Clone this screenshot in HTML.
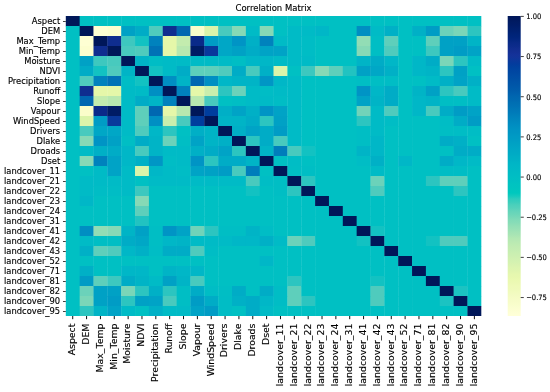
<!DOCTYPE html><html><head><meta charset="utf-8"><style>html,body{margin:0;padding:0;background:#fff;width:550px;height:392px;overflow:hidden}svg{display:block}#w{width:550px;height:392px}text{font-family:"DejaVu Sans","Liberation Sans",sans-serif;fill:#000;stroke:#000;stroke-width:0.15px}</style></head><body><div id="w"><svg width="550" height="392" viewBox="0 0 613.155 392" preserveAspectRatio="none"><rect width="100%" height="100%" fill="#fff"/><g><rect x="73.36" y="16.00" width="15.84" height="10.40" fill="#001759"/><rect x="88.80" y="16.00" width="15.84" height="10.40" fill="#00c0c3"/><rect x="104.24" y="16.00" width="15.84" height="10.40" fill="#00c0c3"/><rect x="119.68" y="16.00" width="15.84" height="10.40" fill="#00c0c3"/><rect x="135.12" y="16.00" width="15.84" height="10.40" fill="#00c0c3"/><rect x="150.56" y="16.00" width="15.84" height="10.40" fill="#00c0c3"/><rect x="166.00" y="16.00" width="15.84" height="10.40" fill="#00c0c3"/><rect x="181.44" y="16.00" width="15.84" height="10.40" fill="#00c0c3"/><rect x="196.88" y="16.00" width="15.84" height="10.40" fill="#00c0c3"/><rect x="212.32" y="16.00" width="15.84" height="10.40" fill="#00c0c3"/><rect x="227.76" y="16.00" width="15.84" height="10.40" fill="#00c0c3"/><rect x="243.20" y="16.00" width="15.84" height="10.40" fill="#00c0c3"/><rect x="258.64" y="16.00" width="15.84" height="10.40" fill="#00c0c3"/><rect x="274.08" y="16.00" width="15.84" height="10.40" fill="#00c0c3"/><rect x="289.52" y="16.00" width="15.84" height="10.40" fill="#00c0c3"/><rect x="304.96" y="16.00" width="15.84" height="10.40" fill="#00c0c3"/><rect x="320.40" y="16.00" width="15.84" height="10.40" fill="#00c0c3"/><rect x="335.84" y="16.00" width="15.84" height="10.40" fill="#00c0c3"/><rect x="351.28" y="16.00" width="15.84" height="10.40" fill="#00c0c3"/><rect x="366.72" y="16.00" width="15.84" height="10.40" fill="#00c0c3"/><rect x="382.16" y="16.00" width="15.84" height="10.40" fill="#00c0c3"/><rect x="397.60" y="16.00" width="15.84" height="10.40" fill="#00c0c3"/><rect x="413.04" y="16.00" width="15.84" height="10.40" fill="#00c0c3"/><rect x="428.48" y="16.00" width="15.84" height="10.40" fill="#00c0c3"/><rect x="443.92" y="16.00" width="15.84" height="10.40" fill="#00c0c3"/><rect x="459.36" y="16.00" width="15.84" height="10.40" fill="#00c0c3"/><rect x="474.80" y="16.00" width="15.84" height="10.40" fill="#00c0c3"/><rect x="490.25" y="16.00" width="15.84" height="10.40" fill="#00c0c3"/><rect x="505.69" y="16.00" width="15.84" height="10.40" fill="#00c0c3"/><rect x="521.13" y="16.00" width="15.44" height="10.40" fill="#00c0c3"/><rect x="73.36" y="26.00" width="15.84" height="10.40" fill="#00c0c3"/><rect x="88.80" y="26.00" width="15.84" height="10.40" fill="#001759"/><rect x="104.24" y="26.00" width="15.84" height="10.40" fill="#feffd3"/><rect x="119.68" y="26.00" width="15.84" height="10.40" fill="#fcfece"/><rect x="135.12" y="26.00" width="15.84" height="10.40" fill="#00a1c5"/><rect x="150.56" y="26.00" width="15.84" height="10.40" fill="#00acc6"/><rect x="166.00" y="26.00" width="15.84" height="10.40" fill="#4fcbbd"/><rect x="181.44" y="26.00" width="15.84" height="10.40" fill="#0f2d8f"/><rect x="196.88" y="26.00" width="15.84" height="10.40" fill="#0067b1"/><rect x="212.32" y="26.00" width="15.84" height="10.40" fill="#fafdca"/><rect x="227.76" y="26.00" width="15.84" height="10.40" fill="#dbf4aa"/><rect x="243.20" y="26.00" width="15.84" height="10.40" fill="#48cabe"/><rect x="258.64" y="26.00" width="15.84" height="10.40" fill="#86d9b6"/><rect x="274.08" y="26.00" width="15.84" height="10.40" fill="#00bbc6"/><rect x="289.52" y="26.00" width="15.84" height="10.40" fill="#86d9b6"/><rect x="304.96" y="26.00" width="15.84" height="10.40" fill="#00c0c3"/><rect x="320.40" y="26.00" width="15.84" height="10.40" fill="#00bbc6"/><rect x="335.84" y="26.00" width="15.84" height="10.40" fill="#00bbc6"/><rect x="351.28" y="26.00" width="15.84" height="10.40" fill="#00b7c7"/><rect x="366.72" y="26.00" width="15.84" height="10.40" fill="#00c0c3"/><rect x="382.16" y="26.00" width="15.84" height="10.40" fill="#00c0c3"/><rect x="397.60" y="26.00" width="15.84" height="10.40" fill="#008ec2"/><rect x="413.04" y="26.00" width="15.84" height="10.40" fill="#00bbc6"/><rect x="428.48" y="26.00" width="15.84" height="10.40" fill="#00b0c6"/><rect x="443.92" y="26.00" width="15.84" height="10.40" fill="#00c0c3"/><rect x="459.36" y="26.00" width="15.84" height="10.40" fill="#00b0c6"/><rect x="474.80" y="26.00" width="15.84" height="10.40" fill="#009cc5"/><rect x="490.25" y="26.00" width="15.84" height="10.40" fill="#6bd2ba"/><rect x="505.69" y="26.00" width="15.84" height="10.40" fill="#7ad6b8"/><rect x="521.13" y="26.00" width="15.44" height="10.40" fill="#2cc5c0"/><rect x="73.36" y="36.00" width="15.84" height="10.40" fill="#00c0c3"/><rect x="88.80" y="36.00" width="15.84" height="10.40" fill="#feffd3"/><rect x="104.24" y="36.00" width="15.84" height="10.40" fill="#001759"/><rect x="119.68" y="36.00" width="15.84" height="10.40" fill="#0f2d8f"/><rect x="135.12" y="36.00" width="15.84" height="10.40" fill="#3dc8bf"/><rect x="150.56" y="36.00" width="15.84" height="10.40" fill="#12c2c2"/><rect x="166.00" y="36.00" width="15.84" height="10.40" fill="#0082bd"/><rect x="181.44" y="36.00" width="15.84" height="10.40" fill="#e5f7a9"/><rect x="196.88" y="36.00" width="15.84" height="10.40" fill="#c3ecae"/><rect x="212.32" y="36.00" width="15.84" height="10.40" fill="#0a2a89"/><rect x="227.76" y="36.00" width="15.84" height="10.40" fill="#009cc5"/><rect x="243.20" y="36.00" width="15.84" height="10.40" fill="#00a7c6"/><rect x="258.64" y="36.00" width="15.84" height="10.40" fill="#0094c5"/><rect x="274.08" y="36.00" width="15.84" height="10.40" fill="#00b0c6"/><rect x="289.52" y="36.00" width="15.84" height="10.40" fill="#0082bd"/><rect x="304.96" y="36.00" width="15.84" height="10.40" fill="#00bbc6"/><rect x="320.40" y="36.00" width="15.84" height="10.40" fill="#00bbc6"/><rect x="335.84" y="36.00" width="15.84" height="10.40" fill="#00bdc5"/><rect x="351.28" y="36.00" width="15.84" height="10.40" fill="#00c0c3"/><rect x="366.72" y="36.00" width="15.84" height="10.40" fill="#00c0c3"/><rect x="382.16" y="36.00" width="15.84" height="10.40" fill="#00c0c3"/><rect x="397.60" y="36.00" width="15.84" height="10.40" fill="#92ddb5"/><rect x="413.04" y="36.00" width="15.84" height="10.40" fill="#00bec4"/><rect x="428.48" y="36.00" width="15.84" height="10.40" fill="#5ecfbb"/><rect x="443.92" y="36.00" width="15.84" height="10.40" fill="#00c0c3"/><rect x="459.36" y="36.00" width="15.84" height="10.40" fill="#00c0c3"/><rect x="474.80" y="36.00" width="15.84" height="10.40" fill="#5ecfbb"/><rect x="490.25" y="36.00" width="15.84" height="10.40" fill="#00a1c5"/><rect x="505.69" y="36.00" width="15.84" height="10.40" fill="#00a1c5"/><rect x="521.13" y="36.00" width="15.44" height="10.40" fill="#00b4c6"/><rect x="73.36" y="46.00" width="15.84" height="10.40" fill="#00c0c3"/><rect x="88.80" y="46.00" width="15.84" height="10.40" fill="#fcfece"/><rect x="104.24" y="46.00" width="15.84" height="10.40" fill="#0f2d8f"/><rect x="119.68" y="46.00" width="15.84" height="10.40" fill="#001759"/><rect x="135.12" y="46.00" width="15.84" height="10.40" fill="#48cabe"/><rect x="150.56" y="46.00" width="15.84" height="10.40" fill="#4fcbbd"/><rect x="166.00" y="46.00" width="15.84" height="10.40" fill="#0072b6"/><rect x="181.44" y="46.00" width="15.84" height="10.40" fill="#e5f7a9"/><rect x="196.88" y="46.00" width="15.84" height="10.40" fill="#b8e8af"/><rect x="212.32" y="46.00" width="15.84" height="10.40" fill="#001c65"/><rect x="227.76" y="46.00" width="15.84" height="10.40" fill="#09399c"/><rect x="243.20" y="46.00" width="15.84" height="10.40" fill="#00a7c6"/><rect x="258.64" y="46.00" width="15.84" height="10.40" fill="#00a1c5"/><rect x="274.08" y="46.00" width="15.84" height="10.40" fill="#00acc6"/><rect x="289.52" y="46.00" width="15.84" height="10.40" fill="#00a3c6"/><rect x="304.96" y="46.00" width="15.84" height="10.40" fill="#00a3c6"/><rect x="320.40" y="46.00" width="15.84" height="10.40" fill="#00bbc6"/><rect x="335.84" y="46.00" width="15.84" height="10.40" fill="#00bdc5"/><rect x="351.28" y="46.00" width="15.84" height="10.40" fill="#00c0c3"/><rect x="366.72" y="46.00" width="15.84" height="10.40" fill="#00c0c3"/><rect x="382.16" y="46.00" width="15.84" height="10.40" fill="#00c0c3"/><rect x="397.60" y="46.00" width="15.84" height="10.40" fill="#86d9b6"/><rect x="413.04" y="46.00" width="15.84" height="10.40" fill="#00bec4"/><rect x="428.48" y="46.00" width="15.84" height="10.40" fill="#4fcbbd"/><rect x="443.92" y="46.00" width="15.84" height="10.40" fill="#00c0c3"/><rect x="459.36" y="46.00" width="15.84" height="10.40" fill="#00c0c3"/><rect x="474.80" y="46.00" width="15.84" height="10.40" fill="#3dc8bf"/><rect x="490.25" y="46.00" width="15.84" height="10.40" fill="#00a1c5"/><rect x="505.69" y="46.00" width="15.84" height="10.40" fill="#009cc5"/><rect x="521.13" y="46.00" width="15.44" height="10.40" fill="#00a3c6"/><rect x="73.36" y="56.00" width="15.84" height="10.40" fill="#00c0c3"/><rect x="88.80" y="56.00" width="15.84" height="10.40" fill="#00a1c5"/><rect x="104.24" y="56.00" width="15.84" height="10.40" fill="#3dc8bf"/><rect x="119.68" y="56.00" width="15.84" height="10.40" fill="#48cabe"/><rect x="135.12" y="56.00" width="15.84" height="10.40" fill="#001759"/><rect x="150.56" y="56.00" width="15.84" height="10.40" fill="#00b4c6"/><rect x="166.00" y="56.00" width="15.84" height="10.40" fill="#00bdc5"/><rect x="181.44" y="56.00" width="15.84" height="10.40" fill="#00bbc6"/><rect x="196.88" y="56.00" width="15.84" height="10.40" fill="#00bbc6"/><rect x="212.32" y="56.00" width="15.84" height="10.40" fill="#00bbc6"/><rect x="227.76" y="56.00" width="15.84" height="10.40" fill="#00bbc6"/><rect x="243.20" y="56.00" width="15.84" height="10.40" fill="#00bbc6"/><rect x="258.64" y="56.00" width="15.84" height="10.40" fill="#00bec4"/><rect x="274.08" y="56.00" width="15.84" height="10.40" fill="#00b7c7"/><rect x="289.52" y="56.00" width="15.84" height="10.40" fill="#00b7c7"/><rect x="304.96" y="56.00" width="15.84" height="10.40" fill="#00bbc6"/><rect x="320.40" y="56.00" width="15.84" height="10.40" fill="#00bbc6"/><rect x="335.84" y="56.00" width="15.84" height="10.40" fill="#00bbc6"/><rect x="351.28" y="56.00" width="15.84" height="10.40" fill="#00c0c3"/><rect x="366.72" y="56.00" width="15.84" height="10.40" fill="#00c0c3"/><rect x="382.16" y="56.00" width="15.84" height="10.40" fill="#00c0c3"/><rect x="397.60" y="56.00" width="15.84" height="10.40" fill="#00b4c6"/><rect x="413.04" y="56.00" width="15.84" height="10.40" fill="#00acc6"/><rect x="428.48" y="56.00" width="15.84" height="10.40" fill="#00b7c7"/><rect x="443.92" y="56.00" width="15.84" height="10.40" fill="#00c0c3"/><rect x="459.36" y="56.00" width="15.84" height="10.40" fill="#00b7c7"/><rect x="474.80" y="56.00" width="15.84" height="10.40" fill="#00acc6"/><rect x="490.25" y="56.00" width="15.84" height="10.40" fill="#7ad6b8"/><rect x="505.69" y="56.00" width="15.84" height="10.40" fill="#2cc5c0"/><rect x="521.13" y="56.00" width="15.44" height="10.40" fill="#00bbc6"/><rect x="73.36" y="66.00" width="15.84" height="10.40" fill="#00c0c3"/><rect x="88.80" y="66.00" width="15.84" height="10.40" fill="#00acc6"/><rect x="104.24" y="66.00" width="15.84" height="10.40" fill="#12c2c2"/><rect x="119.68" y="66.00" width="15.84" height="10.40" fill="#4fcbbd"/><rect x="135.12" y="66.00" width="15.84" height="10.40" fill="#00b4c6"/><rect x="150.56" y="66.00" width="15.84" height="10.40" fill="#001759"/><rect x="166.00" y="66.00" width="15.84" height="10.40" fill="#12c2c2"/><rect x="181.44" y="66.00" width="15.84" height="10.40" fill="#00bbc6"/><rect x="196.88" y="66.00" width="15.84" height="10.40" fill="#00acc6"/><rect x="212.32" y="66.00" width="15.84" height="10.40" fill="#5ecfbb"/><rect x="227.76" y="66.00" width="15.84" height="10.40" fill="#5ecfbb"/><rect x="243.20" y="66.00" width="15.84" height="10.40" fill="#4fcbbd"/><rect x="258.64" y="66.00" width="15.84" height="10.40" fill="#00acc6"/><rect x="274.08" y="66.00" width="15.84" height="10.40" fill="#48cabe"/><rect x="289.52" y="66.00" width="15.84" height="10.40" fill="#00b0c6"/><rect x="304.96" y="66.00" width="15.84" height="10.40" fill="#dbf4aa"/><rect x="320.40" y="66.00" width="15.84" height="10.40" fill="#00c0c3"/><rect x="335.84" y="66.00" width="15.84" height="10.40" fill="#3dc8bf"/><rect x="351.28" y="66.00" width="15.84" height="10.40" fill="#86d9b6"/><rect x="366.72" y="66.00" width="15.84" height="10.40" fill="#5ecfbb"/><rect x="382.16" y="66.00" width="15.84" height="10.40" fill="#21c3c1"/><rect x="397.60" y="66.00" width="15.84" height="10.40" fill="#00a1c5"/><rect x="413.04" y="66.00" width="15.84" height="10.40" fill="#00a7c6"/><rect x="428.48" y="66.00" width="15.84" height="10.40" fill="#00b0c6"/><rect x="443.92" y="66.00" width="15.84" height="10.40" fill="#00c0c3"/><rect x="459.36" y="66.00" width="15.84" height="10.40" fill="#00b7c7"/><rect x="474.80" y="66.00" width="15.84" height="10.40" fill="#00b4c6"/><rect x="490.25" y="66.00" width="15.84" height="10.40" fill="#2cc5c0"/><rect x="505.69" y="66.00" width="15.84" height="10.40" fill="#00a1c5"/><rect x="521.13" y="66.00" width="15.44" height="10.40" fill="#00c0c3"/><rect x="73.36" y="76.00" width="15.84" height="10.40" fill="#00c0c3"/><rect x="88.80" y="76.00" width="15.84" height="10.40" fill="#4fcbbd"/><rect x="104.24" y="76.00" width="15.84" height="10.40" fill="#0082bd"/><rect x="119.68" y="76.00" width="15.84" height="10.40" fill="#0072b6"/><rect x="135.12" y="76.00" width="15.84" height="10.40" fill="#00bdc5"/><rect x="150.56" y="76.00" width="15.84" height="10.40" fill="#12c2c2"/><rect x="166.00" y="76.00" width="15.84" height="10.40" fill="#001759"/><rect x="181.44" y="76.00" width="15.84" height="10.40" fill="#008fc3"/><rect x="196.88" y="76.00" width="15.84" height="10.40" fill="#00b4c6"/><rect x="212.32" y="76.00" width="15.84" height="10.40" fill="#0067b1"/><rect x="227.76" y="76.00" width="15.84" height="10.40" fill="#008fc3"/><rect x="243.20" y="76.00" width="15.84" height="10.40" fill="#00b7c7"/><rect x="258.64" y="76.00" width="15.84" height="10.40" fill="#00b4c6"/><rect x="274.08" y="76.00" width="15.84" height="10.40" fill="#00b4c6"/><rect x="289.52" y="76.00" width="15.84" height="10.40" fill="#0096c5"/><rect x="304.96" y="76.00" width="15.84" height="10.40" fill="#00b7c7"/><rect x="320.40" y="76.00" width="15.84" height="10.40" fill="#00bbc6"/><rect x="335.84" y="76.00" width="15.84" height="10.40" fill="#00c0c3"/><rect x="351.28" y="76.00" width="15.84" height="10.40" fill="#00c0c3"/><rect x="366.72" y="76.00" width="15.84" height="10.40" fill="#00c0c3"/><rect x="382.16" y="76.00" width="15.84" height="10.40" fill="#00c0c3"/><rect x="397.60" y="76.00" width="15.84" height="10.40" fill="#00bec4"/><rect x="413.04" y="76.00" width="15.84" height="10.40" fill="#00bec4"/><rect x="428.48" y="76.00" width="15.84" height="10.40" fill="#00bdc5"/><rect x="443.92" y="76.00" width="15.84" height="10.40" fill="#00c0c3"/><rect x="459.36" y="76.00" width="15.84" height="10.40" fill="#00c0c3"/><rect x="474.80" y="76.00" width="15.84" height="10.40" fill="#00bbc6"/><rect x="490.25" y="76.00" width="15.84" height="10.40" fill="#00b0c6"/><rect x="505.69" y="76.00" width="15.84" height="10.40" fill="#00a3c6"/><rect x="521.13" y="76.00" width="15.44" height="10.40" fill="#00b0c6"/><rect x="73.36" y="86.00" width="15.84" height="10.40" fill="#00c0c3"/><rect x="88.80" y="86.00" width="15.84" height="10.40" fill="#0f2d8f"/><rect x="104.24" y="86.00" width="15.84" height="10.40" fill="#e5f7a9"/><rect x="119.68" y="86.00" width="15.84" height="10.40" fill="#e5f7a9"/><rect x="135.12" y="86.00" width="15.84" height="10.40" fill="#00bbc6"/><rect x="150.56" y="86.00" width="15.84" height="10.40" fill="#00bbc6"/><rect x="166.00" y="86.00" width="15.84" height="10.40" fill="#008fc3"/><rect x="181.44" y="86.00" width="15.84" height="10.40" fill="#001759"/><rect x="196.88" y="86.00" width="15.84" height="10.40" fill="#0082bd"/><rect x="212.32" y="86.00" width="15.84" height="10.40" fill="#e5f7a9"/><rect x="227.76" y="86.00" width="15.84" height="10.40" fill="#c9eead"/><rect x="243.20" y="86.00" width="15.84" height="10.40" fill="#2cc5c0"/><rect x="258.64" y="86.00" width="15.84" height="10.40" fill="#6bd2ba"/><rect x="274.08" y="86.00" width="15.84" height="10.40" fill="#00bbc6"/><rect x="289.52" y="86.00" width="15.84" height="10.40" fill="#00bdc5"/><rect x="304.96" y="86.00" width="15.84" height="10.40" fill="#00bbc6"/><rect x="320.40" y="86.00" width="15.84" height="10.40" fill="#00bbc6"/><rect x="335.84" y="86.00" width="15.84" height="10.40" fill="#00c0c3"/><rect x="351.28" y="86.00" width="15.84" height="10.40" fill="#00c0c3"/><rect x="366.72" y="86.00" width="15.84" height="10.40" fill="#00c0c3"/><rect x="382.16" y="86.00" width="15.84" height="10.40" fill="#00c0c3"/><rect x="397.60" y="86.00" width="15.84" height="10.40" fill="#0094c5"/><rect x="413.04" y="86.00" width="15.84" height="10.40" fill="#00b7c7"/><rect x="428.48" y="86.00" width="15.84" height="10.40" fill="#00acc6"/><rect x="443.92" y="86.00" width="15.84" height="10.40" fill="#00c0c3"/><rect x="459.36" y="86.00" width="15.84" height="10.40" fill="#00b4c6"/><rect x="474.80" y="86.00" width="15.84" height="10.40" fill="#00a1c5"/><rect x="490.25" y="86.00" width="15.84" height="10.40" fill="#2cc5c0"/><rect x="505.69" y="86.00" width="15.84" height="10.40" fill="#48cabe"/><rect x="521.13" y="86.00" width="15.44" height="10.40" fill="#00bbc6"/><rect x="73.36" y="96.00" width="15.84" height="10.40" fill="#00c0c3"/><rect x="88.80" y="96.00" width="15.84" height="10.40" fill="#0067b1"/><rect x="104.24" y="96.00" width="15.84" height="10.40" fill="#c3ecae"/><rect x="119.68" y="96.00" width="15.84" height="10.40" fill="#b8e8af"/><rect x="135.12" y="96.00" width="15.84" height="10.40" fill="#00bbc6"/><rect x="150.56" y="96.00" width="15.84" height="10.40" fill="#00acc6"/><rect x="166.00" y="96.00" width="15.84" height="10.40" fill="#00b4c6"/><rect x="181.44" y="96.00" width="15.84" height="10.40" fill="#0082bd"/><rect x="196.88" y="96.00" width="15.84" height="10.40" fill="#001759"/><rect x="212.32" y="96.00" width="15.84" height="10.40" fill="#b8e8af"/><rect x="227.76" y="96.00" width="15.84" height="10.40" fill="#48cabe"/><rect x="243.20" y="96.00" width="15.84" height="10.40" fill="#00c0c3"/><rect x="258.64" y="96.00" width="15.84" height="10.40" fill="#00bec4"/><rect x="274.08" y="96.00" width="15.84" height="10.40" fill="#00bbc6"/><rect x="289.52" y="96.00" width="15.84" height="10.40" fill="#00bbc6"/><rect x="304.96" y="96.00" width="15.84" height="10.40" fill="#00bdc5"/><rect x="320.40" y="96.00" width="15.84" height="10.40" fill="#00bbc6"/><rect x="335.84" y="96.00" width="15.84" height="10.40" fill="#00c0c3"/><rect x="351.28" y="96.00" width="15.84" height="10.40" fill="#00c0c3"/><rect x="366.72" y="96.00" width="15.84" height="10.40" fill="#00c0c3"/><rect x="382.16" y="96.00" width="15.84" height="10.40" fill="#00c0c3"/><rect x="397.60" y="96.00" width="15.84" height="10.40" fill="#00a3c6"/><rect x="413.04" y="96.00" width="15.84" height="10.40" fill="#00b4c6"/><rect x="428.48" y="96.00" width="15.84" height="10.40" fill="#00acc6"/><rect x="443.92" y="96.00" width="15.84" height="10.40" fill="#00c0c3"/><rect x="459.36" y="96.00" width="15.84" height="10.40" fill="#00b7c7"/><rect x="474.80" y="96.00" width="15.84" height="10.40" fill="#00b4c6"/><rect x="490.25" y="96.00" width="15.84" height="10.40" fill="#00bec4"/><rect x="505.69" y="96.00" width="15.84" height="10.40" fill="#00bec4"/><rect x="521.13" y="96.00" width="15.44" height="10.40" fill="#00bbc6"/><rect x="73.36" y="106.00" width="15.84" height="10.40" fill="#00c0c3"/><rect x="88.80" y="106.00" width="15.84" height="10.40" fill="#fafdca"/><rect x="104.24" y="106.00" width="15.84" height="10.40" fill="#0a2a89"/><rect x="119.68" y="106.00" width="15.84" height="10.40" fill="#001c65"/><rect x="135.12" y="106.00" width="15.84" height="10.40" fill="#00bbc6"/><rect x="150.56" y="106.00" width="15.84" height="10.40" fill="#5ecfbb"/><rect x="166.00" y="106.00" width="15.84" height="10.40" fill="#0067b1"/><rect x="181.44" y="106.00" width="15.84" height="10.40" fill="#e5f7a9"/><rect x="196.88" y="106.00" width="15.84" height="10.40" fill="#b8e8af"/><rect x="212.32" y="106.00" width="15.84" height="10.40" fill="#001759"/><rect x="227.76" y="106.00" width="15.84" height="10.40" fill="#003e9e"/><rect x="243.20" y="106.00" width="15.84" height="10.40" fill="#00afc6"/><rect x="258.64" y="106.00" width="15.84" height="10.40" fill="#00a3c6"/><rect x="274.08" y="106.00" width="15.84" height="10.40" fill="#00b0c6"/><rect x="289.52" y="106.00" width="15.84" height="10.40" fill="#0094c5"/><rect x="304.96" y="106.00" width="15.84" height="10.40" fill="#00a3c6"/><rect x="320.40" y="106.00" width="15.84" height="10.40" fill="#00bbc6"/><rect x="335.84" y="106.00" width="15.84" height="10.40" fill="#00c0c3"/><rect x="351.28" y="106.00" width="15.84" height="10.40" fill="#00c0c3"/><rect x="366.72" y="106.00" width="15.84" height="10.40" fill="#00c0c3"/><rect x="382.16" y="106.00" width="15.84" height="10.40" fill="#00c0c3"/><rect x="397.60" y="106.00" width="15.84" height="10.40" fill="#71d3b9"/><rect x="413.04" y="106.00" width="15.84" height="10.40" fill="#00bbc6"/><rect x="428.48" y="106.00" width="15.84" height="10.40" fill="#4fcbbd"/><rect x="443.92" y="106.00" width="15.84" height="10.40" fill="#00c0c3"/><rect x="459.36" y="106.00" width="15.84" height="10.40" fill="#00b7c7"/><rect x="474.80" y="106.00" width="15.84" height="10.40" fill="#48cabe"/><rect x="490.25" y="106.00" width="15.84" height="10.40" fill="#00acc6"/><rect x="505.69" y="106.00" width="15.84" height="10.40" fill="#009cc5"/><rect x="521.13" y="106.00" width="15.44" height="10.40" fill="#00a3c6"/><rect x="73.36" y="116.00" width="15.84" height="10.40" fill="#00c0c3"/><rect x="88.80" y="116.00" width="15.84" height="10.40" fill="#dbf4aa"/><rect x="104.24" y="116.00" width="15.84" height="10.40" fill="#009cc5"/><rect x="119.68" y="116.00" width="15.84" height="10.40" fill="#09399c"/><rect x="135.12" y="116.00" width="15.84" height="10.40" fill="#00bbc6"/><rect x="150.56" y="116.00" width="15.84" height="10.40" fill="#5ecfbb"/><rect x="166.00" y="116.00" width="15.84" height="10.40" fill="#008fc3"/><rect x="181.44" y="116.00" width="15.84" height="10.40" fill="#c9eead"/><rect x="196.88" y="116.00" width="15.84" height="10.40" fill="#48cabe"/><rect x="212.32" y="116.00" width="15.84" height="10.40" fill="#003e9e"/><rect x="227.76" y="116.00" width="15.84" height="10.40" fill="#001759"/><rect x="243.20" y="116.00" width="15.84" height="10.40" fill="#00b4c6"/><rect x="258.64" y="116.00" width="15.84" height="10.40" fill="#00b4c6"/><rect x="274.08" y="116.00" width="15.84" height="10.40" fill="#00acc6"/><rect x="289.52" y="116.00" width="15.84" height="10.40" fill="#2cc5c0"/><rect x="304.96" y="116.00" width="15.84" height="10.40" fill="#00a1c5"/><rect x="320.40" y="116.00" width="15.84" height="10.40" fill="#00bbc6"/><rect x="335.84" y="116.00" width="15.84" height="10.40" fill="#00c0c3"/><rect x="351.28" y="116.00" width="15.84" height="10.40" fill="#00c0c3"/><rect x="366.72" y="116.00" width="15.84" height="10.40" fill="#00c0c3"/><rect x="382.16" y="116.00" width="15.84" height="10.40" fill="#00c0c3"/><rect x="397.60" y="116.00" width="15.84" height="10.40" fill="#2cc5c0"/><rect x="413.04" y="116.00" width="15.84" height="10.40" fill="#00bbc6"/><rect x="428.48" y="116.00" width="15.84" height="10.40" fill="#00bdc5"/><rect x="443.92" y="116.00" width="15.84" height="10.40" fill="#00c0c3"/><rect x="459.36" y="116.00" width="15.84" height="10.40" fill="#00c0c3"/><rect x="474.80" y="116.00" width="15.84" height="10.40" fill="#00c0c3"/><rect x="490.25" y="116.00" width="15.84" height="10.40" fill="#00bdc5"/><rect x="505.69" y="116.00" width="15.84" height="10.40" fill="#00acc6"/><rect x="521.13" y="116.00" width="15.44" height="10.40" fill="#009cc5"/><rect x="73.36" y="126.00" width="15.84" height="10.40" fill="#00c0c3"/><rect x="88.80" y="126.00" width="15.84" height="10.40" fill="#48cabe"/><rect x="104.24" y="126.00" width="15.84" height="10.40" fill="#00a7c6"/><rect x="119.68" y="126.00" width="15.84" height="10.40" fill="#00a7c6"/><rect x="135.12" y="126.00" width="15.84" height="10.40" fill="#00bbc6"/><rect x="150.56" y="126.00" width="15.84" height="10.40" fill="#4fcbbd"/><rect x="166.00" y="126.00" width="15.84" height="10.40" fill="#00b7c7"/><rect x="181.44" y="126.00" width="15.84" height="10.40" fill="#2cc5c0"/><rect x="196.88" y="126.00" width="15.84" height="10.40" fill="#00c0c3"/><rect x="212.32" y="126.00" width="15.84" height="10.40" fill="#00afc6"/><rect x="227.76" y="126.00" width="15.84" height="10.40" fill="#00b4c6"/><rect x="243.20" y="126.00" width="15.84" height="10.40" fill="#001759"/><rect x="258.64" y="126.00" width="15.84" height="10.40" fill="#00b0c6"/><rect x="274.08" y="126.00" width="15.84" height="10.40" fill="#00a3c6"/><rect x="289.52" y="126.00" width="15.84" height="10.40" fill="#00acc6"/><rect x="304.96" y="126.00" width="15.84" height="10.40" fill="#009cc5"/><rect x="320.40" y="126.00" width="15.84" height="10.40" fill="#00bbc6"/><rect x="335.84" y="126.00" width="15.84" height="10.40" fill="#00c0c3"/><rect x="351.28" y="126.00" width="15.84" height="10.40" fill="#00c0c3"/><rect x="366.72" y="126.00" width="15.84" height="10.40" fill="#00c0c3"/><rect x="382.16" y="126.00" width="15.84" height="10.40" fill="#00c0c3"/><rect x="397.60" y="126.00" width="15.84" height="10.40" fill="#00bec4"/><rect x="413.04" y="126.00" width="15.84" height="10.40" fill="#00bbc6"/><rect x="428.48" y="126.00" width="15.84" height="10.40" fill="#00c0c3"/><rect x="443.92" y="126.00" width="15.84" height="10.40" fill="#00c0c3"/><rect x="459.36" y="126.00" width="15.84" height="10.40" fill="#00c0c3"/><rect x="474.80" y="126.00" width="15.84" height="10.40" fill="#00c0c3"/><rect x="490.25" y="126.00" width="15.84" height="10.40" fill="#00bec4"/><rect x="505.69" y="126.00" width="15.84" height="10.40" fill="#00bdc5"/><rect x="521.13" y="126.00" width="15.44" height="10.40" fill="#00bdc5"/><rect x="73.36" y="136.00" width="15.84" height="10.40" fill="#00c0c3"/><rect x="88.80" y="136.00" width="15.84" height="10.40" fill="#86d9b6"/><rect x="104.24" y="136.00" width="15.84" height="10.40" fill="#0094c5"/><rect x="119.68" y="136.00" width="15.84" height="10.40" fill="#00a1c5"/><rect x="135.12" y="136.00" width="15.84" height="10.40" fill="#00bec4"/><rect x="150.56" y="136.00" width="15.84" height="10.40" fill="#00acc6"/><rect x="166.00" y="136.00" width="15.84" height="10.40" fill="#00b4c6"/><rect x="181.44" y="136.00" width="15.84" height="10.40" fill="#6bd2ba"/><rect x="196.88" y="136.00" width="15.84" height="10.40" fill="#00bec4"/><rect x="212.32" y="136.00" width="15.84" height="10.40" fill="#00a3c6"/><rect x="227.76" y="136.00" width="15.84" height="10.40" fill="#00b4c6"/><rect x="243.20" y="136.00" width="15.84" height="10.40" fill="#00b0c6"/><rect x="258.64" y="136.00" width="15.84" height="10.40" fill="#001759"/><rect x="274.08" y="136.00" width="15.84" height="10.40" fill="#2cc5c0"/><rect x="289.52" y="136.00" width="15.84" height="10.40" fill="#00acc6"/><rect x="304.96" y="136.00" width="15.84" height="10.40" fill="#48cabe"/><rect x="320.40" y="136.00" width="15.84" height="10.40" fill="#00bbc6"/><rect x="335.84" y="136.00" width="15.84" height="10.40" fill="#00c0c3"/><rect x="351.28" y="136.00" width="15.84" height="10.40" fill="#00c0c3"/><rect x="366.72" y="136.00" width="15.84" height="10.40" fill="#00c0c3"/><rect x="382.16" y="136.00" width="15.84" height="10.40" fill="#00c0c3"/><rect x="397.60" y="136.00" width="15.84" height="10.40" fill="#00bec4"/><rect x="413.04" y="136.00" width="15.84" height="10.40" fill="#00b7c7"/><rect x="428.48" y="136.00" width="15.84" height="10.40" fill="#00c0c3"/><rect x="443.92" y="136.00" width="15.84" height="10.40" fill="#00c0c3"/><rect x="459.36" y="136.00" width="15.84" height="10.40" fill="#00c0c3"/><rect x="474.80" y="136.00" width="15.84" height="10.40" fill="#00c0c3"/><rect x="490.25" y="136.00" width="15.84" height="10.40" fill="#00acc6"/><rect x="505.69" y="136.00" width="15.84" height="10.40" fill="#00b0c6"/><rect x="521.13" y="136.00" width="15.44" height="10.40" fill="#00c0c3"/><rect x="73.36" y="146.00" width="15.84" height="10.40" fill="#00c0c3"/><rect x="88.80" y="146.00" width="15.84" height="10.40" fill="#00bbc6"/><rect x="104.24" y="146.00" width="15.84" height="10.40" fill="#00b0c6"/><rect x="119.68" y="146.00" width="15.84" height="10.40" fill="#00acc6"/><rect x="135.12" y="146.00" width="15.84" height="10.40" fill="#00b7c7"/><rect x="150.56" y="146.00" width="15.84" height="10.40" fill="#48cabe"/><rect x="166.00" y="146.00" width="15.84" height="10.40" fill="#00b4c6"/><rect x="181.44" y="146.00" width="15.84" height="10.40" fill="#00bbc6"/><rect x="196.88" y="146.00" width="15.84" height="10.40" fill="#00bbc6"/><rect x="212.32" y="146.00" width="15.84" height="10.40" fill="#00b0c6"/><rect x="227.76" y="146.00" width="15.84" height="10.40" fill="#00acc6"/><rect x="243.20" y="146.00" width="15.84" height="10.40" fill="#00a3c6"/><rect x="258.64" y="146.00" width="15.84" height="10.40" fill="#2cc5c0"/><rect x="274.08" y="146.00" width="15.84" height="10.40" fill="#001759"/><rect x="289.52" y="146.00" width="15.84" height="10.40" fill="#00b4c6"/><rect x="304.96" y="146.00" width="15.84" height="10.40" fill="#007dbb"/><rect x="320.40" y="146.00" width="15.84" height="10.40" fill="#48cabe"/><rect x="335.84" y="146.00" width="15.84" height="10.40" fill="#12c2c2"/><rect x="351.28" y="146.00" width="15.84" height="10.40" fill="#00c0c3"/><rect x="366.72" y="146.00" width="15.84" height="10.40" fill="#00c0c3"/><rect x="382.16" y="146.00" width="15.84" height="10.40" fill="#00c0c3"/><rect x="397.60" y="146.00" width="15.84" height="10.40" fill="#00b4c6"/><rect x="413.04" y="146.00" width="15.84" height="10.40" fill="#00b7c7"/><rect x="428.48" y="146.00" width="15.84" height="10.40" fill="#00c0c3"/><rect x="443.92" y="146.00" width="15.84" height="10.40" fill="#00c0c3"/><rect x="459.36" y="146.00" width="15.84" height="10.40" fill="#00c0c3"/><rect x="474.80" y="146.00" width="15.84" height="10.40" fill="#00c0c3"/><rect x="490.25" y="146.00" width="15.84" height="10.40" fill="#00c0c3"/><rect x="505.69" y="146.00" width="15.84" height="10.40" fill="#00acc6"/><rect x="521.13" y="146.00" width="15.44" height="10.40" fill="#00acc6"/><rect x="73.36" y="156.00" width="15.84" height="10.40" fill="#00c0c3"/><rect x="88.80" y="156.00" width="15.84" height="10.40" fill="#86d9b6"/><rect x="104.24" y="156.00" width="15.84" height="10.40" fill="#0082bd"/><rect x="119.68" y="156.00" width="15.84" height="10.40" fill="#00a3c6"/><rect x="135.12" y="156.00" width="15.84" height="10.40" fill="#00b7c7"/><rect x="150.56" y="156.00" width="15.84" height="10.40" fill="#00b0c6"/><rect x="166.00" y="156.00" width="15.84" height="10.40" fill="#0096c5"/><rect x="181.44" y="156.00" width="15.84" height="10.40" fill="#00bdc5"/><rect x="196.88" y="156.00" width="15.84" height="10.40" fill="#00bbc6"/><rect x="212.32" y="156.00" width="15.84" height="10.40" fill="#0094c5"/><rect x="227.76" y="156.00" width="15.84" height="10.40" fill="#2cc5c0"/><rect x="243.20" y="156.00" width="15.84" height="10.40" fill="#00acc6"/><rect x="258.64" y="156.00" width="15.84" height="10.40" fill="#00acc6"/><rect x="274.08" y="156.00" width="15.84" height="10.40" fill="#00b4c6"/><rect x="289.52" y="156.00" width="15.84" height="10.40" fill="#001759"/><rect x="304.96" y="156.00" width="15.84" height="10.40" fill="#00c0c3"/><rect x="320.40" y="156.00" width="15.84" height="10.40" fill="#00bdc5"/><rect x="335.84" y="156.00" width="15.84" height="10.40" fill="#00c0c3"/><rect x="351.28" y="156.00" width="15.84" height="10.40" fill="#00c0c3"/><rect x="366.72" y="156.00" width="15.84" height="10.40" fill="#00c0c3"/><rect x="382.16" y="156.00" width="15.84" height="10.40" fill="#00c0c3"/><rect x="397.60" y="156.00" width="15.84" height="10.40" fill="#00bdc5"/><rect x="413.04" y="156.00" width="15.84" height="10.40" fill="#00b0c6"/><rect x="428.48" y="156.00" width="15.84" height="10.40" fill="#00c0c3"/><rect x="443.92" y="156.00" width="15.84" height="10.40" fill="#00b7c7"/><rect x="459.36" y="156.00" width="15.84" height="10.40" fill="#00c0c3"/><rect x="474.80" y="156.00" width="15.84" height="10.40" fill="#00c0c3"/><rect x="490.25" y="156.00" width="15.84" height="10.40" fill="#00acc6"/><rect x="505.69" y="156.00" width="15.84" height="10.40" fill="#00b7c7"/><rect x="521.13" y="156.00" width="15.44" height="10.40" fill="#00bbc6"/><rect x="73.36" y="166.00" width="15.84" height="10.40" fill="#00c0c3"/><rect x="88.80" y="166.00" width="15.84" height="10.40" fill="#00c0c3"/><rect x="104.24" y="166.00" width="15.84" height="10.40" fill="#00bbc6"/><rect x="119.68" y="166.00" width="15.84" height="10.40" fill="#00a3c6"/><rect x="135.12" y="166.00" width="15.84" height="10.40" fill="#00bbc6"/><rect x="150.56" y="166.00" width="15.84" height="10.40" fill="#dbf4aa"/><rect x="166.00" y="166.00" width="15.84" height="10.40" fill="#00b7c7"/><rect x="181.44" y="166.00" width="15.84" height="10.40" fill="#00bbc6"/><rect x="196.88" y="166.00" width="15.84" height="10.40" fill="#00bdc5"/><rect x="212.32" y="166.00" width="15.84" height="10.40" fill="#00a3c6"/><rect x="227.76" y="166.00" width="15.84" height="10.40" fill="#00a1c5"/><rect x="243.20" y="166.00" width="15.84" height="10.40" fill="#009cc5"/><rect x="258.64" y="166.00" width="15.84" height="10.40" fill="#48cabe"/><rect x="274.08" y="166.00" width="15.84" height="10.40" fill="#007dbb"/><rect x="289.52" y="166.00" width="15.84" height="10.40" fill="#00c0c3"/><rect x="304.96" y="166.00" width="15.84" height="10.40" fill="#001759"/><rect x="320.40" y="166.00" width="15.84" height="10.40" fill="#00bec4"/><rect x="335.84" y="166.00" width="15.84" height="10.40" fill="#00bec4"/><rect x="351.28" y="166.00" width="15.84" height="10.40" fill="#00c0c3"/><rect x="366.72" y="166.00" width="15.84" height="10.40" fill="#00c0c3"/><rect x="382.16" y="166.00" width="15.84" height="10.40" fill="#00c0c3"/><rect x="397.60" y="166.00" width="15.84" height="10.40" fill="#00c0c3"/><rect x="413.04" y="166.00" width="15.84" height="10.40" fill="#00bbc6"/><rect x="428.48" y="166.00" width="15.84" height="10.40" fill="#00c0c3"/><rect x="443.92" y="166.00" width="15.84" height="10.40" fill="#00c0c3"/><rect x="459.36" y="166.00" width="15.84" height="10.40" fill="#00c0c3"/><rect x="474.80" y="166.00" width="15.84" height="10.40" fill="#00c0c3"/><rect x="490.25" y="166.00" width="15.84" height="10.40" fill="#00bdc5"/><rect x="505.69" y="166.00" width="15.84" height="10.40" fill="#00bdc5"/><rect x="521.13" y="166.00" width="15.44" height="10.40" fill="#00c0c3"/><rect x="73.36" y="176.00" width="15.84" height="10.40" fill="#00c0c3"/><rect x="88.80" y="176.00" width="15.84" height="10.40" fill="#00bbc6"/><rect x="104.24" y="176.00" width="15.84" height="10.40" fill="#00bbc6"/><rect x="119.68" y="176.00" width="15.84" height="10.40" fill="#00bbc6"/><rect x="135.12" y="176.00" width="15.84" height="10.40" fill="#00bbc6"/><rect x="150.56" y="176.00" width="15.84" height="10.40" fill="#00c0c3"/><rect x="166.00" y="176.00" width="15.84" height="10.40" fill="#00bbc6"/><rect x="181.44" y="176.00" width="15.84" height="10.40" fill="#00bbc6"/><rect x="196.88" y="176.00" width="15.84" height="10.40" fill="#00bbc6"/><rect x="212.32" y="176.00" width="15.84" height="10.40" fill="#00bbc6"/><rect x="227.76" y="176.00" width="15.84" height="10.40" fill="#00bbc6"/><rect x="243.20" y="176.00" width="15.84" height="10.40" fill="#00bbc6"/><rect x="258.64" y="176.00" width="15.84" height="10.40" fill="#00bbc6"/><rect x="274.08" y="176.00" width="15.84" height="10.40" fill="#48cabe"/><rect x="289.52" y="176.00" width="15.84" height="10.40" fill="#00bdc5"/><rect x="304.96" y="176.00" width="15.84" height="10.40" fill="#00bec4"/><rect x="320.40" y="176.00" width="15.84" height="10.40" fill="#001759"/><rect x="335.84" y="176.00" width="15.84" height="10.40" fill="#2cc5c0"/><rect x="351.28" y="176.00" width="15.84" height="10.40" fill="#00c0c3"/><rect x="366.72" y="176.00" width="15.84" height="10.40" fill="#00c0c3"/><rect x="382.16" y="176.00" width="15.84" height="10.40" fill="#00c0c3"/><rect x="397.60" y="176.00" width="15.84" height="10.40" fill="#00c0c3"/><rect x="413.04" y="176.00" width="15.84" height="10.40" fill="#6bd2ba"/><rect x="428.48" y="176.00" width="15.84" height="10.40" fill="#00c0c3"/><rect x="443.92" y="176.00" width="15.84" height="10.40" fill="#00c0c3"/><rect x="459.36" y="176.00" width="15.84" height="10.40" fill="#00c0c3"/><rect x="474.80" y="176.00" width="15.84" height="10.40" fill="#2cc5c0"/><rect x="490.25" y="176.00" width="15.84" height="10.40" fill="#5ecfbb"/><rect x="505.69" y="176.00" width="15.84" height="10.40" fill="#5ecfbb"/><rect x="521.13" y="176.00" width="15.44" height="10.40" fill="#00c0c3"/><rect x="73.36" y="186.00" width="15.84" height="10.40" fill="#00c0c3"/><rect x="88.80" y="186.00" width="15.84" height="10.40" fill="#00bbc6"/><rect x="104.24" y="186.00" width="15.84" height="10.40" fill="#00bdc5"/><rect x="119.68" y="186.00" width="15.84" height="10.40" fill="#00bdc5"/><rect x="135.12" y="186.00" width="15.84" height="10.40" fill="#00bbc6"/><rect x="150.56" y="186.00" width="15.84" height="10.40" fill="#3dc8bf"/><rect x="166.00" y="186.00" width="15.84" height="10.40" fill="#00c0c3"/><rect x="181.44" y="186.00" width="15.84" height="10.40" fill="#00c0c3"/><rect x="196.88" y="186.00" width="15.84" height="10.40" fill="#00c0c3"/><rect x="212.32" y="186.00" width="15.84" height="10.40" fill="#00c0c3"/><rect x="227.76" y="186.00" width="15.84" height="10.40" fill="#00c0c3"/><rect x="243.20" y="186.00" width="15.84" height="10.40" fill="#00c0c3"/><rect x="258.64" y="186.00" width="15.84" height="10.40" fill="#00c0c3"/><rect x="274.08" y="186.00" width="15.84" height="10.40" fill="#12c2c2"/><rect x="289.52" y="186.00" width="15.84" height="10.40" fill="#00c0c3"/><rect x="304.96" y="186.00" width="15.84" height="10.40" fill="#00bec4"/><rect x="320.40" y="186.00" width="15.84" height="10.40" fill="#2cc5c0"/><rect x="335.84" y="186.00" width="15.84" height="10.40" fill="#001759"/><rect x="351.28" y="186.00" width="15.84" height="10.40" fill="#00c0c3"/><rect x="366.72" y="186.00" width="15.84" height="10.40" fill="#00c0c3"/><rect x="382.16" y="186.00" width="15.84" height="10.40" fill="#00c0c3"/><rect x="397.60" y="186.00" width="15.84" height="10.40" fill="#00c0c3"/><rect x="413.04" y="186.00" width="15.84" height="10.40" fill="#4fcbbd"/><rect x="428.48" y="186.00" width="15.84" height="10.40" fill="#00c0c3"/><rect x="443.92" y="186.00" width="15.84" height="10.40" fill="#00c0c3"/><rect x="459.36" y="186.00" width="15.84" height="10.40" fill="#00c0c3"/><rect x="474.80" y="186.00" width="15.84" height="10.40" fill="#00c0c3"/><rect x="490.25" y="186.00" width="15.84" height="10.40" fill="#00c0c3"/><rect x="505.69" y="186.00" width="15.84" height="10.40" fill="#2cc5c0"/><rect x="521.13" y="186.00" width="15.44" height="10.40" fill="#00c0c3"/><rect x="73.36" y="196.00" width="15.84" height="10.40" fill="#00c0c3"/><rect x="88.80" y="196.00" width="15.84" height="10.40" fill="#00b7c7"/><rect x="104.24" y="196.00" width="15.84" height="10.40" fill="#00c0c3"/><rect x="119.68" y="196.00" width="15.84" height="10.40" fill="#00c0c3"/><rect x="135.12" y="196.00" width="15.84" height="10.40" fill="#00c0c3"/><rect x="150.56" y="196.00" width="15.84" height="10.40" fill="#86d9b6"/><rect x="166.00" y="196.00" width="15.84" height="10.40" fill="#00c0c3"/><rect x="181.44" y="196.00" width="15.84" height="10.40" fill="#00c0c3"/><rect x="196.88" y="196.00" width="15.84" height="10.40" fill="#00c0c3"/><rect x="212.32" y="196.00" width="15.84" height="10.40" fill="#00c0c3"/><rect x="227.76" y="196.00" width="15.84" height="10.40" fill="#00c0c3"/><rect x="243.20" y="196.00" width="15.84" height="10.40" fill="#00c0c3"/><rect x="258.64" y="196.00" width="15.84" height="10.40" fill="#00c0c3"/><rect x="274.08" y="196.00" width="15.84" height="10.40" fill="#00c0c3"/><rect x="289.52" y="196.00" width="15.84" height="10.40" fill="#00c0c3"/><rect x="304.96" y="196.00" width="15.84" height="10.40" fill="#00c0c3"/><rect x="320.40" y="196.00" width="15.84" height="10.40" fill="#00c0c3"/><rect x="335.84" y="196.00" width="15.84" height="10.40" fill="#00c0c3"/><rect x="351.28" y="196.00" width="15.84" height="10.40" fill="#001759"/><rect x="366.72" y="196.00" width="15.84" height="10.40" fill="#00c0c3"/><rect x="382.16" y="196.00" width="15.84" height="10.40" fill="#00c0c3"/><rect x="397.60" y="196.00" width="15.84" height="10.40" fill="#00c0c3"/><rect x="413.04" y="196.00" width="15.84" height="10.40" fill="#00c0c3"/><rect x="428.48" y="196.00" width="15.84" height="10.40" fill="#00c0c3"/><rect x="443.92" y="196.00" width="15.84" height="10.40" fill="#00c0c3"/><rect x="459.36" y="196.00" width="15.84" height="10.40" fill="#00c0c3"/><rect x="474.80" y="196.00" width="15.84" height="10.40" fill="#00c0c3"/><rect x="490.25" y="196.00" width="15.84" height="10.40" fill="#00c0c3"/><rect x="505.69" y="196.00" width="15.84" height="10.40" fill="#00c0c3"/><rect x="521.13" y="196.00" width="15.44" height="10.40" fill="#00c0c3"/><rect x="73.36" y="206.00" width="15.84" height="10.40" fill="#00c0c3"/><rect x="88.80" y="206.00" width="15.84" height="10.40" fill="#00c0c3"/><rect x="104.24" y="206.00" width="15.84" height="10.40" fill="#00c0c3"/><rect x="119.68" y="206.00" width="15.84" height="10.40" fill="#00c0c3"/><rect x="135.12" y="206.00" width="15.84" height="10.40" fill="#00c0c3"/><rect x="150.56" y="206.00" width="15.84" height="10.40" fill="#5ecfbb"/><rect x="166.00" y="206.00" width="15.84" height="10.40" fill="#00c0c3"/><rect x="181.44" y="206.00" width="15.84" height="10.40" fill="#00c0c3"/><rect x="196.88" y="206.00" width="15.84" height="10.40" fill="#00c0c3"/><rect x="212.32" y="206.00" width="15.84" height="10.40" fill="#00c0c3"/><rect x="227.76" y="206.00" width="15.84" height="10.40" fill="#00c0c3"/><rect x="243.20" y="206.00" width="15.84" height="10.40" fill="#00c0c3"/><rect x="258.64" y="206.00" width="15.84" height="10.40" fill="#00c0c3"/><rect x="274.08" y="206.00" width="15.84" height="10.40" fill="#00c0c3"/><rect x="289.52" y="206.00" width="15.84" height="10.40" fill="#00c0c3"/><rect x="304.96" y="206.00" width="15.84" height="10.40" fill="#00c0c3"/><rect x="320.40" y="206.00" width="15.84" height="10.40" fill="#00c0c3"/><rect x="335.84" y="206.00" width="15.84" height="10.40" fill="#00c0c3"/><rect x="351.28" y="206.00" width="15.84" height="10.40" fill="#00c0c3"/><rect x="366.72" y="206.00" width="15.84" height="10.40" fill="#001759"/><rect x="382.16" y="206.00" width="15.84" height="10.40" fill="#00c0c3"/><rect x="397.60" y="206.00" width="15.84" height="10.40" fill="#00c0c3"/><rect x="413.04" y="206.00" width="15.84" height="10.40" fill="#00c0c3"/><rect x="428.48" y="206.00" width="15.84" height="10.40" fill="#00c0c3"/><rect x="443.92" y="206.00" width="15.84" height="10.40" fill="#00c0c3"/><rect x="459.36" y="206.00" width="15.84" height="10.40" fill="#00c0c3"/><rect x="474.80" y="206.00" width="15.84" height="10.40" fill="#00c0c3"/><rect x="490.25" y="206.00" width="15.84" height="10.40" fill="#00c0c3"/><rect x="505.69" y="206.00" width="15.84" height="10.40" fill="#00c0c3"/><rect x="521.13" y="206.00" width="15.44" height="10.40" fill="#00c0c3"/><rect x="73.36" y="216.00" width="15.84" height="10.40" fill="#00c0c3"/><rect x="88.80" y="216.00" width="15.84" height="10.40" fill="#00c0c3"/><rect x="104.24" y="216.00" width="15.84" height="10.40" fill="#00c0c3"/><rect x="119.68" y="216.00" width="15.84" height="10.40" fill="#00c0c3"/><rect x="135.12" y="216.00" width="15.84" height="10.40" fill="#00c0c3"/><rect x="150.56" y="216.00" width="15.84" height="10.40" fill="#21c3c1"/><rect x="166.00" y="216.00" width="15.84" height="10.40" fill="#00c0c3"/><rect x="181.44" y="216.00" width="15.84" height="10.40" fill="#00c0c3"/><rect x="196.88" y="216.00" width="15.84" height="10.40" fill="#00c0c3"/><rect x="212.32" y="216.00" width="15.84" height="10.40" fill="#00c0c3"/><rect x="227.76" y="216.00" width="15.84" height="10.40" fill="#00c0c3"/><rect x="243.20" y="216.00" width="15.84" height="10.40" fill="#00c0c3"/><rect x="258.64" y="216.00" width="15.84" height="10.40" fill="#00c0c3"/><rect x="274.08" y="216.00" width="15.84" height="10.40" fill="#00c0c3"/><rect x="289.52" y="216.00" width="15.84" height="10.40" fill="#00c0c3"/><rect x="304.96" y="216.00" width="15.84" height="10.40" fill="#00c0c3"/><rect x="320.40" y="216.00" width="15.84" height="10.40" fill="#00c0c3"/><rect x="335.84" y="216.00" width="15.84" height="10.40" fill="#00c0c3"/><rect x="351.28" y="216.00" width="15.84" height="10.40" fill="#00c0c3"/><rect x="366.72" y="216.00" width="15.84" height="10.40" fill="#00c0c3"/><rect x="382.16" y="216.00" width="15.84" height="10.40" fill="#001759"/><rect x="397.60" y="216.00" width="15.84" height="10.40" fill="#00c0c3"/><rect x="413.04" y="216.00" width="15.84" height="10.40" fill="#00c0c3"/><rect x="428.48" y="216.00" width="15.84" height="10.40" fill="#00c0c3"/><rect x="443.92" y="216.00" width="15.84" height="10.40" fill="#00c0c3"/><rect x="459.36" y="216.00" width="15.84" height="10.40" fill="#00c0c3"/><rect x="474.80" y="216.00" width="15.84" height="10.40" fill="#00c0c3"/><rect x="490.25" y="216.00" width="15.84" height="10.40" fill="#00c0c3"/><rect x="505.69" y="216.00" width="15.84" height="10.40" fill="#00c0c3"/><rect x="521.13" y="216.00" width="15.44" height="10.40" fill="#00c0c3"/><rect x="73.36" y="226.00" width="15.84" height="10.40" fill="#00c0c3"/><rect x="88.80" y="226.00" width="15.84" height="10.40" fill="#008ec2"/><rect x="104.24" y="226.00" width="15.84" height="10.40" fill="#92ddb5"/><rect x="119.68" y="226.00" width="15.84" height="10.40" fill="#86d9b6"/><rect x="135.12" y="226.00" width="15.84" height="10.40" fill="#00b4c6"/><rect x="150.56" y="226.00" width="15.84" height="10.40" fill="#00a1c5"/><rect x="166.00" y="226.00" width="15.84" height="10.40" fill="#00bec4"/><rect x="181.44" y="226.00" width="15.84" height="10.40" fill="#0094c5"/><rect x="196.88" y="226.00" width="15.84" height="10.40" fill="#00a3c6"/><rect x="212.32" y="226.00" width="15.84" height="10.40" fill="#71d3b9"/><rect x="227.76" y="226.00" width="15.84" height="10.40" fill="#2cc5c0"/><rect x="243.20" y="226.00" width="15.84" height="10.40" fill="#00bec4"/><rect x="258.64" y="226.00" width="15.84" height="10.40" fill="#00bec4"/><rect x="274.08" y="226.00" width="15.84" height="10.40" fill="#00b4c6"/><rect x="289.52" y="226.00" width="15.84" height="10.40" fill="#00bdc5"/><rect x="304.96" y="226.00" width="15.84" height="10.40" fill="#00c0c3"/><rect x="320.40" y="226.00" width="15.84" height="10.40" fill="#00c0c3"/><rect x="335.84" y="226.00" width="15.84" height="10.40" fill="#00c0c3"/><rect x="351.28" y="226.00" width="15.84" height="10.40" fill="#00c0c3"/><rect x="366.72" y="226.00" width="15.84" height="10.40" fill="#00c0c3"/><rect x="382.16" y="226.00" width="15.84" height="10.40" fill="#00c0c3"/><rect x="397.60" y="226.00" width="15.84" height="10.40" fill="#001759"/><rect x="413.04" y="226.00" width="15.84" height="10.40" fill="#12c2c2"/><rect x="428.48" y="226.00" width="15.84" height="10.40" fill="#00c0c3"/><rect x="443.92" y="226.00" width="15.84" height="10.40" fill="#00c0c3"/><rect x="459.36" y="226.00" width="15.84" height="10.40" fill="#00c0c3"/><rect x="474.80" y="226.00" width="15.84" height="10.40" fill="#00c0c3"/><rect x="490.25" y="226.00" width="15.84" height="10.40" fill="#00c0c3"/><rect x="505.69" y="226.00" width="15.84" height="10.40" fill="#00c0c3"/><rect x="521.13" y="226.00" width="15.44" height="10.40" fill="#00c0c3"/><rect x="73.36" y="236.00" width="15.84" height="10.40" fill="#00c0c3"/><rect x="88.80" y="236.00" width="15.84" height="10.40" fill="#00bbc6"/><rect x="104.24" y="236.00" width="15.84" height="10.40" fill="#00bec4"/><rect x="119.68" y="236.00" width="15.84" height="10.40" fill="#00bec4"/><rect x="135.12" y="236.00" width="15.84" height="10.40" fill="#00acc6"/><rect x="150.56" y="236.00" width="15.84" height="10.40" fill="#00a7c6"/><rect x="166.00" y="236.00" width="15.84" height="10.40" fill="#00bec4"/><rect x="181.44" y="236.00" width="15.84" height="10.40" fill="#00b7c7"/><rect x="196.88" y="236.00" width="15.84" height="10.40" fill="#00b4c6"/><rect x="212.32" y="236.00" width="15.84" height="10.40" fill="#00bbc6"/><rect x="227.76" y="236.00" width="15.84" height="10.40" fill="#00bbc6"/><rect x="243.20" y="236.00" width="15.84" height="10.40" fill="#00bbc6"/><rect x="258.64" y="236.00" width="15.84" height="10.40" fill="#00b7c7"/><rect x="274.08" y="236.00" width="15.84" height="10.40" fill="#00b7c7"/><rect x="289.52" y="236.00" width="15.84" height="10.40" fill="#00b0c6"/><rect x="304.96" y="236.00" width="15.84" height="10.40" fill="#00bbc6"/><rect x="320.40" y="236.00" width="15.84" height="10.40" fill="#6bd2ba"/><rect x="335.84" y="236.00" width="15.84" height="10.40" fill="#4fcbbd"/><rect x="351.28" y="236.00" width="15.84" height="10.40" fill="#00c0c3"/><rect x="366.72" y="236.00" width="15.84" height="10.40" fill="#00c0c3"/><rect x="382.16" y="236.00" width="15.84" height="10.40" fill="#00c0c3"/><rect x="397.60" y="236.00" width="15.84" height="10.40" fill="#12c2c2"/><rect x="413.04" y="236.00" width="15.84" height="10.40" fill="#001759"/><rect x="428.48" y="236.00" width="15.84" height="10.40" fill="#00c0c3"/><rect x="443.92" y="236.00" width="15.84" height="10.40" fill="#00c0c3"/><rect x="459.36" y="236.00" width="15.84" height="10.40" fill="#00c0c3"/><rect x="474.80" y="236.00" width="15.84" height="10.40" fill="#12c2c2"/><rect x="490.25" y="236.00" width="15.84" height="10.40" fill="#4fcbbd"/><rect x="505.69" y="236.00" width="15.84" height="10.40" fill="#4fcbbd"/><rect x="521.13" y="236.00" width="15.44" height="10.40" fill="#00c0c3"/><rect x="73.36" y="246.00" width="15.84" height="10.40" fill="#00c0c3"/><rect x="88.80" y="246.00" width="15.84" height="10.40" fill="#00b0c6"/><rect x="104.24" y="246.00" width="15.84" height="10.40" fill="#5ecfbb"/><rect x="119.68" y="246.00" width="15.84" height="10.40" fill="#4fcbbd"/><rect x="135.12" y="246.00" width="15.84" height="10.40" fill="#00b7c7"/><rect x="150.56" y="246.00" width="15.84" height="10.40" fill="#00b0c6"/><rect x="166.00" y="246.00" width="15.84" height="10.40" fill="#00bdc5"/><rect x="181.44" y="246.00" width="15.84" height="10.40" fill="#00acc6"/><rect x="196.88" y="246.00" width="15.84" height="10.40" fill="#00acc6"/><rect x="212.32" y="246.00" width="15.84" height="10.40" fill="#4fcbbd"/><rect x="227.76" y="246.00" width="15.84" height="10.40" fill="#00bdc5"/><rect x="243.20" y="246.00" width="15.84" height="10.40" fill="#00c0c3"/><rect x="258.64" y="246.00" width="15.84" height="10.40" fill="#00c0c3"/><rect x="274.08" y="246.00" width="15.84" height="10.40" fill="#00c0c3"/><rect x="289.52" y="246.00" width="15.84" height="10.40" fill="#00c0c3"/><rect x="304.96" y="246.00" width="15.84" height="10.40" fill="#00c0c3"/><rect x="320.40" y="246.00" width="15.84" height="10.40" fill="#00c0c3"/><rect x="335.84" y="246.00" width="15.84" height="10.40" fill="#00c0c3"/><rect x="351.28" y="246.00" width="15.84" height="10.40" fill="#00c0c3"/><rect x="366.72" y="246.00" width="15.84" height="10.40" fill="#00c0c3"/><rect x="382.16" y="246.00" width="15.84" height="10.40" fill="#00c0c3"/><rect x="397.60" y="246.00" width="15.84" height="10.40" fill="#00c0c3"/><rect x="413.04" y="246.00" width="15.84" height="10.40" fill="#00c0c3"/><rect x="428.48" y="246.00" width="15.84" height="10.40" fill="#001759"/><rect x="443.92" y="246.00" width="15.84" height="10.40" fill="#00c0c3"/><rect x="459.36" y="246.00" width="15.84" height="10.40" fill="#00c0c3"/><rect x="474.80" y="246.00" width="15.84" height="10.40" fill="#00c0c3"/><rect x="490.25" y="246.00" width="15.84" height="10.40" fill="#00c0c3"/><rect x="505.69" y="246.00" width="15.84" height="10.40" fill="#00c0c3"/><rect x="521.13" y="246.00" width="15.44" height="10.40" fill="#00c0c3"/><rect x="73.36" y="256.00" width="15.84" height="10.40" fill="#00c0c3"/><rect x="88.80" y="256.00" width="15.84" height="10.40" fill="#00c0c3"/><rect x="104.24" y="256.00" width="15.84" height="10.40" fill="#00c0c3"/><rect x="119.68" y="256.00" width="15.84" height="10.40" fill="#00c0c3"/><rect x="135.12" y="256.00" width="15.84" height="10.40" fill="#00c0c3"/><rect x="150.56" y="256.00" width="15.84" height="10.40" fill="#00c0c3"/><rect x="166.00" y="256.00" width="15.84" height="10.40" fill="#00c0c3"/><rect x="181.44" y="256.00" width="15.84" height="10.40" fill="#00c0c3"/><rect x="196.88" y="256.00" width="15.84" height="10.40" fill="#00c0c3"/><rect x="212.32" y="256.00" width="15.84" height="10.40" fill="#00c0c3"/><rect x="227.76" y="256.00" width="15.84" height="10.40" fill="#00c0c3"/><rect x="243.20" y="256.00" width="15.84" height="10.40" fill="#00c0c3"/><rect x="258.64" y="256.00" width="15.84" height="10.40" fill="#00c0c3"/><rect x="274.08" y="256.00" width="15.84" height="10.40" fill="#00c0c3"/><rect x="289.52" y="256.00" width="15.84" height="10.40" fill="#00b7c7"/><rect x="304.96" y="256.00" width="15.84" height="10.40" fill="#00c0c3"/><rect x="320.40" y="256.00" width="15.84" height="10.40" fill="#00c0c3"/><rect x="335.84" y="256.00" width="15.84" height="10.40" fill="#00c0c3"/><rect x="351.28" y="256.00" width="15.84" height="10.40" fill="#00c0c3"/><rect x="366.72" y="256.00" width="15.84" height="10.40" fill="#00c0c3"/><rect x="382.16" y="256.00" width="15.84" height="10.40" fill="#00c0c3"/><rect x="397.60" y="256.00" width="15.84" height="10.40" fill="#00c0c3"/><rect x="413.04" y="256.00" width="15.84" height="10.40" fill="#00c0c3"/><rect x="428.48" y="256.00" width="15.84" height="10.40" fill="#00c0c3"/><rect x="443.92" y="256.00" width="15.84" height="10.40" fill="#001759"/><rect x="459.36" y="256.00" width="15.84" height="10.40" fill="#00c0c3"/><rect x="474.80" y="256.00" width="15.84" height="10.40" fill="#00c0c3"/><rect x="490.25" y="256.00" width="15.84" height="10.40" fill="#00c0c3"/><rect x="505.69" y="256.00" width="15.84" height="10.40" fill="#00c0c3"/><rect x="521.13" y="256.00" width="15.44" height="10.40" fill="#00c0c3"/><rect x="73.36" y="266.00" width="15.84" height="10.40" fill="#00c0c3"/><rect x="88.80" y="266.00" width="15.84" height="10.40" fill="#00b0c6"/><rect x="104.24" y="266.00" width="15.84" height="10.40" fill="#00c0c3"/><rect x="119.68" y="266.00" width="15.84" height="10.40" fill="#00c0c3"/><rect x="135.12" y="266.00" width="15.84" height="10.40" fill="#00b7c7"/><rect x="150.56" y="266.00" width="15.84" height="10.40" fill="#00b7c7"/><rect x="166.00" y="266.00" width="15.84" height="10.40" fill="#00c0c3"/><rect x="181.44" y="266.00" width="15.84" height="10.40" fill="#00b4c6"/><rect x="196.88" y="266.00" width="15.84" height="10.40" fill="#00b7c7"/><rect x="212.32" y="266.00" width="15.84" height="10.40" fill="#00b7c7"/><rect x="227.76" y="266.00" width="15.84" height="10.40" fill="#00c0c3"/><rect x="243.20" y="266.00" width="15.84" height="10.40" fill="#00c0c3"/><rect x="258.64" y="266.00" width="15.84" height="10.40" fill="#00c0c3"/><rect x="274.08" y="266.00" width="15.84" height="10.40" fill="#00c0c3"/><rect x="289.52" y="266.00" width="15.84" height="10.40" fill="#00c0c3"/><rect x="304.96" y="266.00" width="15.84" height="10.40" fill="#00c0c3"/><rect x="320.40" y="266.00" width="15.84" height="10.40" fill="#00c0c3"/><rect x="335.84" y="266.00" width="15.84" height="10.40" fill="#00c0c3"/><rect x="351.28" y="266.00" width="15.84" height="10.40" fill="#00c0c3"/><rect x="366.72" y="266.00" width="15.84" height="10.40" fill="#00c0c3"/><rect x="382.16" y="266.00" width="15.84" height="10.40" fill="#00c0c3"/><rect x="397.60" y="266.00" width="15.84" height="10.40" fill="#00c0c3"/><rect x="413.04" y="266.00" width="15.84" height="10.40" fill="#00c0c3"/><rect x="428.48" y="266.00" width="15.84" height="10.40" fill="#00c0c3"/><rect x="443.92" y="266.00" width="15.84" height="10.40" fill="#00c0c3"/><rect x="459.36" y="266.00" width="15.84" height="10.40" fill="#001759"/><rect x="474.80" y="266.00" width="15.84" height="10.40" fill="#00c0c3"/><rect x="490.25" y="266.00" width="15.84" height="10.40" fill="#00c0c3"/><rect x="505.69" y="266.00" width="15.84" height="10.40" fill="#00c0c3"/><rect x="521.13" y="266.00" width="15.44" height="10.40" fill="#00c0c3"/><rect x="73.36" y="276.00" width="15.84" height="10.40" fill="#00c0c3"/><rect x="88.80" y="276.00" width="15.84" height="10.40" fill="#009cc5"/><rect x="104.24" y="276.00" width="15.84" height="10.40" fill="#5ecfbb"/><rect x="119.68" y="276.00" width="15.84" height="10.40" fill="#3dc8bf"/><rect x="135.12" y="276.00" width="15.84" height="10.40" fill="#00acc6"/><rect x="150.56" y="276.00" width="15.84" height="10.40" fill="#00b4c6"/><rect x="166.00" y="276.00" width="15.84" height="10.40" fill="#00bbc6"/><rect x="181.44" y="276.00" width="15.84" height="10.40" fill="#00a1c5"/><rect x="196.88" y="276.00" width="15.84" height="10.40" fill="#00b4c6"/><rect x="212.32" y="276.00" width="15.84" height="10.40" fill="#48cabe"/><rect x="227.76" y="276.00" width="15.84" height="10.40" fill="#00c0c3"/><rect x="243.20" y="276.00" width="15.84" height="10.40" fill="#00c0c3"/><rect x="258.64" y="276.00" width="15.84" height="10.40" fill="#00c0c3"/><rect x="274.08" y="276.00" width="15.84" height="10.40" fill="#00c0c3"/><rect x="289.52" y="276.00" width="15.84" height="10.40" fill="#00c0c3"/><rect x="304.96" y="276.00" width="15.84" height="10.40" fill="#00c0c3"/><rect x="320.40" y="276.00" width="15.84" height="10.40" fill="#2cc5c0"/><rect x="335.84" y="276.00" width="15.84" height="10.40" fill="#00c0c3"/><rect x="351.28" y="276.00" width="15.84" height="10.40" fill="#00c0c3"/><rect x="366.72" y="276.00" width="15.84" height="10.40" fill="#00c0c3"/><rect x="382.16" y="276.00" width="15.84" height="10.40" fill="#00c0c3"/><rect x="397.60" y="276.00" width="15.84" height="10.40" fill="#00c0c3"/><rect x="413.04" y="276.00" width="15.84" height="10.40" fill="#12c2c2"/><rect x="428.48" y="276.00" width="15.84" height="10.40" fill="#00c0c3"/><rect x="443.92" y="276.00" width="15.84" height="10.40" fill="#00c0c3"/><rect x="459.36" y="276.00" width="15.84" height="10.40" fill="#00c0c3"/><rect x="474.80" y="276.00" width="15.84" height="10.40" fill="#001759"/><rect x="490.25" y="276.00" width="15.84" height="10.40" fill="#00c0c3"/><rect x="505.69" y="276.00" width="15.84" height="10.40" fill="#00c0c3"/><rect x="521.13" y="276.00" width="15.44" height="10.40" fill="#00c0c3"/><rect x="73.36" y="286.00" width="15.84" height="10.40" fill="#00c0c3"/><rect x="88.80" y="286.00" width="15.84" height="10.40" fill="#6bd2ba"/><rect x="104.24" y="286.00" width="15.84" height="10.40" fill="#00a1c5"/><rect x="119.68" y="286.00" width="15.84" height="10.40" fill="#00a1c5"/><rect x="135.12" y="286.00" width="15.84" height="10.40" fill="#7ad6b8"/><rect x="150.56" y="286.00" width="15.84" height="10.40" fill="#2cc5c0"/><rect x="166.00" y="286.00" width="15.84" height="10.40" fill="#00b0c6"/><rect x="181.44" y="286.00" width="15.84" height="10.40" fill="#2cc5c0"/><rect x="196.88" y="286.00" width="15.84" height="10.40" fill="#00bec4"/><rect x="212.32" y="286.00" width="15.84" height="10.40" fill="#00acc6"/><rect x="227.76" y="286.00" width="15.84" height="10.40" fill="#00bdc5"/><rect x="243.20" y="286.00" width="15.84" height="10.40" fill="#00bec4"/><rect x="258.64" y="286.00" width="15.84" height="10.40" fill="#00acc6"/><rect x="274.08" y="286.00" width="15.84" height="10.40" fill="#00c0c3"/><rect x="289.52" y="286.00" width="15.84" height="10.40" fill="#00acc6"/><rect x="304.96" y="286.00" width="15.84" height="10.40" fill="#00bdc5"/><rect x="320.40" y="286.00" width="15.84" height="10.40" fill="#5ecfbb"/><rect x="335.84" y="286.00" width="15.84" height="10.40" fill="#00c0c3"/><rect x="351.28" y="286.00" width="15.84" height="10.40" fill="#00c0c3"/><rect x="366.72" y="286.00" width="15.84" height="10.40" fill="#00c0c3"/><rect x="382.16" y="286.00" width="15.84" height="10.40" fill="#00c0c3"/><rect x="397.60" y="286.00" width="15.84" height="10.40" fill="#00c0c3"/><rect x="413.04" y="286.00" width="15.84" height="10.40" fill="#4fcbbd"/><rect x="428.48" y="286.00" width="15.84" height="10.40" fill="#00c0c3"/><rect x="443.92" y="286.00" width="15.84" height="10.40" fill="#00c0c3"/><rect x="459.36" y="286.00" width="15.84" height="10.40" fill="#00c0c3"/><rect x="474.80" y="286.00" width="15.84" height="10.40" fill="#00c0c3"/><rect x="490.25" y="286.00" width="15.84" height="10.40" fill="#001759"/><rect x="505.69" y="286.00" width="15.84" height="10.40" fill="#1bc3c2"/><rect x="521.13" y="286.00" width="15.44" height="10.40" fill="#00c0c3"/><rect x="73.36" y="296.00" width="15.84" height="10.40" fill="#00c0c3"/><rect x="88.80" y="296.00" width="15.84" height="10.40" fill="#7ad6b8"/><rect x="104.24" y="296.00" width="15.84" height="10.40" fill="#00a1c5"/><rect x="119.68" y="296.00" width="15.84" height="10.40" fill="#009cc5"/><rect x="135.12" y="296.00" width="15.84" height="10.40" fill="#2cc5c0"/><rect x="150.56" y="296.00" width="15.84" height="10.40" fill="#00a1c5"/><rect x="166.00" y="296.00" width="15.84" height="10.40" fill="#00a3c6"/><rect x="181.44" y="296.00" width="15.84" height="10.40" fill="#48cabe"/><rect x="196.88" y="296.00" width="15.84" height="10.40" fill="#00bec4"/><rect x="212.32" y="296.00" width="15.84" height="10.40" fill="#009cc5"/><rect x="227.76" y="296.00" width="15.84" height="10.40" fill="#00acc6"/><rect x="243.20" y="296.00" width="15.84" height="10.40" fill="#00bdc5"/><rect x="258.64" y="296.00" width="15.84" height="10.40" fill="#00b0c6"/><rect x="274.08" y="296.00" width="15.84" height="10.40" fill="#00acc6"/><rect x="289.52" y="296.00" width="15.84" height="10.40" fill="#00b7c7"/><rect x="304.96" y="296.00" width="15.84" height="10.40" fill="#00bdc5"/><rect x="320.40" y="296.00" width="15.84" height="10.40" fill="#5ecfbb"/><rect x="335.84" y="296.00" width="15.84" height="10.40" fill="#2cc5c0"/><rect x="351.28" y="296.00" width="15.84" height="10.40" fill="#00c0c3"/><rect x="366.72" y="296.00" width="15.84" height="10.40" fill="#00c0c3"/><rect x="382.16" y="296.00" width="15.84" height="10.40" fill="#00c0c3"/><rect x="397.60" y="296.00" width="15.84" height="10.40" fill="#00c0c3"/><rect x="413.04" y="296.00" width="15.84" height="10.40" fill="#4fcbbd"/><rect x="428.48" y="296.00" width="15.84" height="10.40" fill="#00c0c3"/><rect x="443.92" y="296.00" width="15.84" height="10.40" fill="#00c0c3"/><rect x="459.36" y="296.00" width="15.84" height="10.40" fill="#00c0c3"/><rect x="474.80" y="296.00" width="15.84" height="10.40" fill="#00c0c3"/><rect x="490.25" y="296.00" width="15.84" height="10.40" fill="#1bc3c2"/><rect x="505.69" y="296.00" width="15.84" height="10.40" fill="#001759"/><rect x="521.13" y="296.00" width="15.44" height="10.40" fill="#00c0c3"/><rect x="73.36" y="306.00" width="15.84" height="10.00" fill="#00c0c3"/><rect x="88.80" y="306.00" width="15.84" height="10.00" fill="#2cc5c0"/><rect x="104.24" y="306.00" width="15.84" height="10.00" fill="#00b4c6"/><rect x="119.68" y="306.00" width="15.84" height="10.00" fill="#00a3c6"/><rect x="135.12" y="306.00" width="15.84" height="10.00" fill="#00bbc6"/><rect x="150.56" y="306.00" width="15.84" height="10.00" fill="#00c0c3"/><rect x="166.00" y="306.00" width="15.84" height="10.00" fill="#00b0c6"/><rect x="181.44" y="306.00" width="15.84" height="10.00" fill="#00bbc6"/><rect x="196.88" y="306.00" width="15.84" height="10.00" fill="#00bbc6"/><rect x="212.32" y="306.00" width="15.84" height="10.00" fill="#00a3c6"/><rect x="227.76" y="306.00" width="15.84" height="10.00" fill="#009cc5"/><rect x="243.20" y="306.00" width="15.84" height="10.00" fill="#00bdc5"/><rect x="258.64" y="306.00" width="15.84" height="10.00" fill="#00c0c3"/><rect x="274.08" y="306.00" width="15.84" height="10.00" fill="#00acc6"/><rect x="289.52" y="306.00" width="15.84" height="10.00" fill="#00bbc6"/><rect x="304.96" y="306.00" width="15.84" height="10.00" fill="#00c0c3"/><rect x="320.40" y="306.00" width="15.84" height="10.00" fill="#00c0c3"/><rect x="335.84" y="306.00" width="15.84" height="10.00" fill="#00c0c3"/><rect x="351.28" y="306.00" width="15.84" height="10.00" fill="#00c0c3"/><rect x="366.72" y="306.00" width="15.84" height="10.00" fill="#00c0c3"/><rect x="382.16" y="306.00" width="15.84" height="10.00" fill="#00c0c3"/><rect x="397.60" y="306.00" width="15.84" height="10.00" fill="#00c0c3"/><rect x="413.04" y="306.00" width="15.84" height="10.00" fill="#00c0c3"/><rect x="428.48" y="306.00" width="15.84" height="10.00" fill="#00c0c3"/><rect x="443.92" y="306.00" width="15.84" height="10.00" fill="#00c0c3"/><rect x="459.36" y="306.00" width="15.84" height="10.00" fill="#00c0c3"/><rect x="474.80" y="306.00" width="15.84" height="10.00" fill="#00c0c3"/><rect x="490.25" y="306.00" width="15.84" height="10.00" fill="#00c0c3"/><rect x="505.69" y="306.00" width="15.84" height="10.00" fill="#00c0c3"/><rect x="521.13" y="306.00" width="15.44" height="10.00" fill="#001759"/></g><line x1="70.23" x2="73.36" y1="21.50" y2="21.50" stroke="#222" stroke-width="0.9"/><text x="67.11" y="24.40" font-size="9.33" text-anchor="end">Aspect</text><line x1="70.23" x2="73.36" y1="31.50" y2="31.50" stroke="#222" stroke-width="0.9"/><text x="67.11" y="34.40" font-size="9.33" text-anchor="end">DEM</text><line x1="70.23" x2="73.36" y1="41.50" y2="41.50" stroke="#222" stroke-width="0.9"/><text x="67.11" y="44.40" font-size="9.33" text-anchor="end">Max<tspan dy="0.6">_</tspan><tspan dy="-0.6">Temp</tspan></text><line x1="70.23" x2="73.36" y1="51.50" y2="51.50" stroke="#222" stroke-width="0.9"/><text x="67.11" y="54.40" font-size="9.33" text-anchor="end">Min<tspan dy="0.6">_</tspan><tspan dy="-0.6">Temp</tspan></text><line x1="70.23" x2="73.36" y1="61.50" y2="61.50" stroke="#222" stroke-width="0.9"/><text x="67.11" y="64.40" font-size="9.33" text-anchor="end">Moisture</text><line x1="70.23" x2="73.36" y1="71.50" y2="71.50" stroke="#222" stroke-width="0.9"/><text x="67.11" y="74.40" font-size="9.33" text-anchor="end">NDVI</text><line x1="70.23" x2="73.36" y1="81.50" y2="81.50" stroke="#222" stroke-width="0.9"/><text x="67.11" y="84.40" font-size="9.33" text-anchor="end">Precipitation</text><line x1="70.23" x2="73.36" y1="91.50" y2="91.50" stroke="#222" stroke-width="0.9"/><text x="67.11" y="94.40" font-size="9.33" text-anchor="end">Runoff</text><line x1="70.23" x2="73.36" y1="101.50" y2="101.50" stroke="#222" stroke-width="0.9"/><text x="67.11" y="104.40" font-size="9.33" text-anchor="end">Slope</text><line x1="70.23" x2="73.36" y1="111.50" y2="111.50" stroke="#222" stroke-width="0.9"/><text x="67.11" y="114.40" font-size="9.33" text-anchor="end">Vapour</text><line x1="70.23" x2="73.36" y1="121.50" y2="121.50" stroke="#222" stroke-width="0.9"/><text x="67.11" y="124.40" font-size="9.33" text-anchor="end">WindSpeed</text><line x1="70.23" x2="73.36" y1="131.50" y2="131.50" stroke="#222" stroke-width="0.9"/><text x="67.11" y="134.40" font-size="9.33" text-anchor="end">Drivers</text><line x1="70.23" x2="73.36" y1="141.50" y2="141.50" stroke="#222" stroke-width="0.9"/><text x="67.11" y="144.40" font-size="9.33" text-anchor="end">Dlake</text><line x1="70.23" x2="73.36" y1="151.50" y2="151.50" stroke="#222" stroke-width="0.9"/><text x="67.11" y="154.40" font-size="9.33" text-anchor="end">Droads</text><line x1="70.23" x2="73.36" y1="161.50" y2="161.50" stroke="#222" stroke-width="0.9"/><text x="67.11" y="164.40" font-size="9.33" text-anchor="end">Dset</text><line x1="70.23" x2="73.36" y1="171.50" y2="171.50" stroke="#222" stroke-width="0.9"/><text x="67.11" y="174.40" font-size="9.33" text-anchor="end">landcover<tspan dy="0.6">_</tspan><tspan dy="-0.6">11</tspan></text><line x1="70.23" x2="73.36" y1="181.50" y2="181.50" stroke="#222" stroke-width="0.9"/><text x="67.11" y="184.40" font-size="9.33" text-anchor="end">landcover<tspan dy="0.6">_</tspan><tspan dy="-0.6">21</tspan></text><line x1="70.23" x2="73.36" y1="191.50" y2="191.50" stroke="#222" stroke-width="0.9"/><text x="67.11" y="194.40" font-size="9.33" text-anchor="end">landcover<tspan dy="0.6">_</tspan><tspan dy="-0.6">22</tspan></text><line x1="70.23" x2="73.36" y1="201.50" y2="201.50" stroke="#222" stroke-width="0.9"/><text x="67.11" y="204.40" font-size="9.33" text-anchor="end">landcover<tspan dy="0.6">_</tspan><tspan dy="-0.6">23</tspan></text><line x1="70.23" x2="73.36" y1="211.50" y2="211.50" stroke="#222" stroke-width="0.9"/><text x="67.11" y="214.40" font-size="9.33" text-anchor="end">landcover<tspan dy="0.6">_</tspan><tspan dy="-0.6">24</tspan></text><line x1="70.23" x2="73.36" y1="221.50" y2="221.50" stroke="#222" stroke-width="0.9"/><text x="67.11" y="224.40" font-size="9.33" text-anchor="end">landcover<tspan dy="0.6">_</tspan><tspan dy="-0.6">31</tspan></text><line x1="70.23" x2="73.36" y1="231.50" y2="231.50" stroke="#222" stroke-width="0.9"/><text x="67.11" y="234.40" font-size="9.33" text-anchor="end">landcover<tspan dy="0.6">_</tspan><tspan dy="-0.6">41</tspan></text><line x1="70.23" x2="73.36" y1="241.50" y2="241.50" stroke="#222" stroke-width="0.9"/><text x="67.11" y="244.40" font-size="9.33" text-anchor="end">landcover<tspan dy="0.6">_</tspan><tspan dy="-0.6">42</tspan></text><line x1="70.23" x2="73.36" y1="251.50" y2="251.50" stroke="#222" stroke-width="0.9"/><text x="67.11" y="254.40" font-size="9.33" text-anchor="end">landcover<tspan dy="0.6">_</tspan><tspan dy="-0.6">43</tspan></text><line x1="70.23" x2="73.36" y1="261.50" y2="261.50" stroke="#222" stroke-width="0.9"/><text x="67.11" y="264.40" font-size="9.33" text-anchor="end">landcover<tspan dy="0.6">_</tspan><tspan dy="-0.6">52</tspan></text><line x1="70.23" x2="73.36" y1="271.50" y2="271.50" stroke="#222" stroke-width="0.9"/><text x="67.11" y="274.40" font-size="9.33" text-anchor="end">landcover<tspan dy="0.6">_</tspan><tspan dy="-0.6">71</tspan></text><line x1="70.23" x2="73.36" y1="281.50" y2="281.50" stroke="#222" stroke-width="0.9"/><text x="67.11" y="284.40" font-size="9.33" text-anchor="end">landcover<tspan dy="0.6">_</tspan><tspan dy="-0.6">81</tspan></text><line x1="70.23" x2="73.36" y1="291.50" y2="291.50" stroke="#222" stroke-width="0.9"/><text x="67.11" y="294.40" font-size="9.33" text-anchor="end">landcover<tspan dy="0.6">_</tspan><tspan dy="-0.6">82</tspan></text><line x1="70.23" x2="73.36" y1="301.50" y2="301.50" stroke="#222" stroke-width="0.9"/><text x="67.11" y="304.40" font-size="9.33" text-anchor="end">landcover<tspan dy="0.6">_</tspan><tspan dy="-0.6">90</tspan></text><line x1="70.23" x2="73.36" y1="311.50" y2="311.50" stroke="#222" stroke-width="0.9"/><text x="67.11" y="314.40" font-size="9.33" text-anchor="end">landcover<tspan dy="0.6">_</tspan><tspan dy="-0.6">95</tspan></text><line x1="81.08" x2="81.08" y1="316.00" y2="319.20" stroke="#000" stroke-width="1.0"/><text transform="translate(83.68,323.60) rotate(-90)" font-size="9.33" text-anchor="end">Aspect</text><line x1="96.52" x2="96.52" y1="316.00" y2="319.20" stroke="#000" stroke-width="1.0"/><text transform="translate(99.12,323.60) rotate(-90)" font-size="9.33" text-anchor="end">DEM</text><line x1="111.96" x2="111.96" y1="316.00" y2="319.20" stroke="#000" stroke-width="1.0"/><text transform="translate(114.56,323.60) rotate(-90)" font-size="9.33" text-anchor="end">Max<tspan dy="0.4">_</tspan><tspan dy="-0.4">Temp</tspan></text><line x1="127.40" x2="127.40" y1="316.00" y2="319.20" stroke="#000" stroke-width="1.0"/><text transform="translate(130.00,323.60) rotate(-90)" font-size="9.33" text-anchor="end">Min<tspan dy="0.4">_</tspan><tspan dy="-0.4">Temp</tspan></text><line x1="142.84" x2="142.84" y1="316.00" y2="319.20" stroke="#000" stroke-width="1.0"/><text transform="translate(145.44,323.60) rotate(-90)" font-size="9.33" text-anchor="end">Moisture</text><line x1="158.28" x2="158.28" y1="316.00" y2="319.20" stroke="#000" stroke-width="1.0"/><text transform="translate(160.88,323.60) rotate(-90)" font-size="9.33" text-anchor="end">NDVI</text><line x1="173.72" x2="173.72" y1="316.00" y2="319.20" stroke="#000" stroke-width="1.0"/><text transform="translate(176.32,323.60) rotate(-90)" font-size="9.33" text-anchor="end">Precipitation</text><line x1="189.16" x2="189.16" y1="316.00" y2="319.20" stroke="#000" stroke-width="1.0"/><text transform="translate(191.76,323.60) rotate(-90)" font-size="9.33" text-anchor="end">Runoff</text><line x1="204.60" x2="204.60" y1="316.00" y2="319.20" stroke="#000" stroke-width="1.0"/><text transform="translate(207.20,323.60) rotate(-90)" font-size="9.33" text-anchor="end">Slope</text><line x1="220.04" x2="220.04" y1="316.00" y2="319.20" stroke="#000" stroke-width="1.0"/><text transform="translate(222.64,323.60) rotate(-90)" font-size="9.33" text-anchor="end">Vapour</text><line x1="235.48" x2="235.48" y1="316.00" y2="319.20" stroke="#000" stroke-width="1.0"/><text transform="translate(238.08,323.60) rotate(-90)" font-size="9.33" text-anchor="end">WindSpeed</text><line x1="250.92" x2="250.92" y1="316.00" y2="319.20" stroke="#000" stroke-width="1.0"/><text transform="translate(253.52,323.60) rotate(-90)" font-size="9.33" text-anchor="end">Drivers</text><line x1="266.36" x2="266.36" y1="316.00" y2="319.20" stroke="#000" stroke-width="1.0"/><text transform="translate(268.96,323.60) rotate(-90)" font-size="9.33" text-anchor="end">Dlake</text><line x1="281.80" x2="281.80" y1="316.00" y2="319.20" stroke="#000" stroke-width="1.0"/><text transform="translate(284.40,323.60) rotate(-90)" font-size="9.33" text-anchor="end">Droads</text><line x1="297.24" x2="297.24" y1="316.00" y2="319.20" stroke="#000" stroke-width="1.0"/><text transform="translate(299.84,323.60) rotate(-90)" font-size="9.33" text-anchor="end">Dset</text><line x1="312.68" x2="312.68" y1="316.00" y2="319.20" stroke="#000" stroke-width="1.0"/><text transform="translate(315.28,323.60) rotate(-90)" font-size="9.33" text-anchor="end">landcover<tspan dy="0.4">_</tspan><tspan dy="-0.4">11</tspan></text><line x1="328.12" x2="328.12" y1="316.00" y2="319.20" stroke="#000" stroke-width="1.0"/><text transform="translate(330.72,323.60) rotate(-90)" font-size="9.33" text-anchor="end">landcover<tspan dy="0.4">_</tspan><tspan dy="-0.4">21</tspan></text><line x1="343.56" x2="343.56" y1="316.00" y2="319.20" stroke="#000" stroke-width="1.0"/><text transform="translate(346.16,323.60) rotate(-90)" font-size="9.33" text-anchor="end">landcover<tspan dy="0.4">_</tspan><tspan dy="-0.4">22</tspan></text><line x1="359.00" x2="359.00" y1="316.00" y2="319.20" stroke="#000" stroke-width="1.0"/><text transform="translate(361.60,323.60) rotate(-90)" font-size="9.33" text-anchor="end">landcover<tspan dy="0.4">_</tspan><tspan dy="-0.4">23</tspan></text><line x1="374.44" x2="374.44" y1="316.00" y2="319.20" stroke="#000" stroke-width="1.0"/><text transform="translate(377.04,323.60) rotate(-90)" font-size="9.33" text-anchor="end">landcover<tspan dy="0.4">_</tspan><tspan dy="-0.4">24</tspan></text><line x1="389.88" x2="389.88" y1="316.00" y2="319.20" stroke="#000" stroke-width="1.0"/><text transform="translate(392.48,323.60) rotate(-90)" font-size="9.33" text-anchor="end">landcover<tspan dy="0.4">_</tspan><tspan dy="-0.4">31</tspan></text><line x1="405.32" x2="405.32" y1="316.00" y2="319.20" stroke="#000" stroke-width="1.0"/><text transform="translate(407.92,323.60) rotate(-90)" font-size="9.33" text-anchor="end">landcover<tspan dy="0.4">_</tspan><tspan dy="-0.4">41</tspan></text><line x1="420.76" x2="420.76" y1="316.00" y2="319.20" stroke="#000" stroke-width="1.0"/><text transform="translate(423.36,323.60) rotate(-90)" font-size="9.33" text-anchor="end">landcover<tspan dy="0.4">_</tspan><tspan dy="-0.4">42</tspan></text><line x1="436.20" x2="436.20" y1="316.00" y2="319.20" stroke="#000" stroke-width="1.0"/><text transform="translate(438.80,323.60) rotate(-90)" font-size="9.33" text-anchor="end">landcover<tspan dy="0.4">_</tspan><tspan dy="-0.4">43</tspan></text><line x1="451.64" x2="451.64" y1="316.00" y2="319.20" stroke="#000" stroke-width="1.0"/><text transform="translate(454.24,323.60) rotate(-90)" font-size="9.33" text-anchor="end">landcover<tspan dy="0.4">_</tspan><tspan dy="-0.4">52</tspan></text><line x1="467.08" x2="467.08" y1="316.00" y2="319.20" stroke="#000" stroke-width="1.0"/><text transform="translate(469.68,323.60) rotate(-90)" font-size="9.33" text-anchor="end">landcover<tspan dy="0.4">_</tspan><tspan dy="-0.4">71</tspan></text><line x1="482.53" x2="482.53" y1="316.00" y2="319.20" stroke="#000" stroke-width="1.0"/><text transform="translate(485.13,323.60) rotate(-90)" font-size="9.33" text-anchor="end">landcover<tspan dy="0.4">_</tspan><tspan dy="-0.4">81</tspan></text><line x1="497.97" x2="497.97" y1="316.00" y2="319.20" stroke="#000" stroke-width="1.0"/><text transform="translate(500.57,323.60) rotate(-90)" font-size="9.33" text-anchor="end">landcover<tspan dy="0.4">_</tspan><tspan dy="-0.4">82</tspan></text><line x1="513.41" x2="513.41" y1="316.00" y2="319.20" stroke="#000" stroke-width="1.0"/><text transform="translate(516.01,323.60) rotate(-90)" font-size="9.33" text-anchor="end">landcover<tspan dy="0.4">_</tspan><tspan dy="-0.4">90</tspan></text><line x1="528.85" x2="528.85" y1="316.00" y2="319.20" stroke="#000" stroke-width="1.0"/><text transform="translate(531.45,323.60) rotate(-90)" font-size="9.33" text-anchor="end">landcover<tspan dy="0.4">_</tspan><tspan dy="-0.4">95</tspan></text><text x="304.96" y="11.3" font-size="9.45" text-anchor="middle">Correlation Matrix</text><defs><linearGradient id="cb" x1="0" y1="0" x2="0" y2="1"><stop offset="0.000" stop-color="#001759"/><stop offset="0.010" stop-color="#00185d"/><stop offset="0.020" stop-color="#001b63"/><stop offset="0.030" stop-color="#001c67"/><stop offset="0.040" stop-color="#001f6d"/><stop offset="0.050" stop-color="#002171"/><stop offset="0.060" stop-color="#002377"/><stop offset="0.070" stop-color="#00257b"/><stop offset="0.080" stop-color="#042781"/><stop offset="0.090" stop-color="#092a87"/><stop offset="0.100" stop-color="#0c2b8b"/><stop offset="0.110" stop-color="#112e90"/><stop offset="0.120" stop-color="#132f94"/><stop offset="0.130" stop-color="#143299"/><stop offset="0.140" stop-color="#11359a"/><stop offset="0.150" stop-color="#09399c"/><stop offset="0.160" stop-color="#033c9d"/><stop offset="0.170" stop-color="#00419f"/><stop offset="0.180" stop-color="#0045a1"/><stop offset="0.190" stop-color="#0048a2"/><stop offset="0.200" stop-color="#004ca4"/><stop offset="0.210" stop-color="#004fa5"/><stop offset="0.220" stop-color="#0053a7"/><stop offset="0.230" stop-color="#0056a8"/><stop offset="0.240" stop-color="#005aaa"/><stop offset="0.250" stop-color="#005dab"/><stop offset="0.260" stop-color="#0062ae"/><stop offset="0.270" stop-color="#0067b0"/><stop offset="0.280" stop-color="#006ab1"/><stop offset="0.290" stop-color="#006fb3"/><stop offset="0.300" stop-color="#0072b5"/><stop offset="0.310" stop-color="#0077b7"/><stop offset="0.320" stop-color="#007ab9"/><stop offset="0.330" stop-color="#007fbb"/><stop offset="0.340" stop-color="#0084bd"/><stop offset="0.350" stop-color="#0088be"/><stop offset="0.360" stop-color="#008cc1"/><stop offset="0.370" stop-color="#0090c2"/><stop offset="0.380" stop-color="#0094c3"/><stop offset="0.390" stop-color="#0096c3"/><stop offset="0.400" stop-color="#009ac4"/><stop offset="0.410" stop-color="#009cc4"/><stop offset="0.420" stop-color="#00a0c4"/><stop offset="0.430" stop-color="#00a3c4"/><stop offset="0.440" stop-color="#00a6c5"/><stop offset="0.450" stop-color="#00a9c5"/><stop offset="0.460" stop-color="#00abc5"/><stop offset="0.470" stop-color="#00afc5"/><stop offset="0.480" stop-color="#00b1c5"/><stop offset="0.490" stop-color="#00b5c6"/><stop offset="0.500" stop-color="#00b7c6"/><stop offset="0.510" stop-color="#00b9c5"/><stop offset="0.520" stop-color="#00bbc4"/><stop offset="0.530" stop-color="#00bdc4"/><stop offset="0.540" stop-color="#00bfc3"/><stop offset="0.550" stop-color="#00c0c2"/><stop offset="0.560" stop-color="#00c3c1"/><stop offset="0.570" stop-color="#00c4c0"/><stop offset="0.580" stop-color="#00c6bf"/><stop offset="0.590" stop-color="#00c8be"/><stop offset="0.600" stop-color="#13cabe"/><stop offset="0.610" stop-color="#2fccbd"/><stop offset="0.620" stop-color="#3bcdbc"/><stop offset="0.630" stop-color="#4bd0bb"/><stop offset="0.640" stop-color="#55d1bb"/><stop offset="0.650" stop-color="#63d4ba"/><stop offset="0.660" stop-color="#6bd6b9"/><stop offset="0.670" stop-color="#76d8b8"/><stop offset="0.680" stop-color="#81dbb8"/><stop offset="0.690" stop-color="#88ddb7"/><stop offset="0.700" stop-color="#92dfb6"/><stop offset="0.710" stop-color="#99e1b6"/><stop offset="0.720" stop-color="#a2e3b5"/><stop offset="0.730" stop-color="#a9e5b4"/><stop offset="0.740" stop-color="#b2e8b3"/><stop offset="0.750" stop-color="#b8e9b3"/><stop offset="0.760" stop-color="#bdebb2"/><stop offset="0.770" stop-color="#c2ecb2"/><stop offset="0.780" stop-color="#c5edb2"/><stop offset="0.790" stop-color="#c9efb1"/><stop offset="0.800" stop-color="#cdefb1"/><stop offset="0.810" stop-color="#d1f1b1"/><stop offset="0.820" stop-color="#d4f2b1"/><stop offset="0.830" stop-color="#d9f3b0"/><stop offset="0.840" stop-color="#ddf5b0"/><stop offset="0.850" stop-color="#e0f5af"/><stop offset="0.860" stop-color="#e5f7af"/><stop offset="0.870" stop-color="#e7f8af"/><stop offset="0.880" stop-color="#eaf9b1"/><stop offset="0.890" stop-color="#ecf9b4"/><stop offset="0.900" stop-color="#eefab8"/><stop offset="0.910" stop-color="#effaba"/><stop offset="0.920" stop-color="#f1fbbe"/><stop offset="0.930" stop-color="#f3fbc2"/><stop offset="0.940" stop-color="#f5fcc5"/><stop offset="0.950" stop-color="#f7fcc9"/><stop offset="0.960" stop-color="#f8fdcb"/><stop offset="0.970" stop-color="#fafecf"/><stop offset="0.980" stop-color="#fcfed2"/><stop offset="0.990" stop-color="#feffd6"/><stop offset="1.000" stop-color="#ffffd8"/></linearGradient></defs><rect x="566.00" y="16.0" width="14.49" height="300.0" fill="url(#cb)"/><line x1="580.49" x2="583.95" y1="16.40" y2="16.40" stroke="#222" stroke-width="0.9"/><text x="586.62" y="19.20" font-size="7.55">1.00</text><line x1="580.49" x2="583.95" y1="56.56" y2="56.56" stroke="#222" stroke-width="0.9"/><text x="586.62" y="59.37" font-size="7.55">0.75</text><line x1="580.49" x2="583.95" y1="96.73" y2="96.73" stroke="#222" stroke-width="0.9"/><text x="586.62" y="99.53" font-size="7.55">0.50</text><line x1="580.49" x2="583.95" y1="136.90" y2="136.90" stroke="#222" stroke-width="0.9"/><text x="586.62" y="139.69" font-size="7.55">0.25</text><line x1="580.49" x2="583.95" y1="177.06" y2="177.06" stroke="#222" stroke-width="0.9"/><text x="586.62" y="179.86" font-size="7.55">0.00</text><line x1="580.49" x2="583.95" y1="217.22" y2="217.22" stroke="#222" stroke-width="0.9"/><text x="586.62" y="220.02" font-size="7.55">−0.25</text><line x1="580.49" x2="583.95" y1="257.39" y2="257.39" stroke="#222" stroke-width="0.9"/><text x="586.62" y="260.19" font-size="7.55">−0.50</text><line x1="580.49" x2="583.95" y1="297.55" y2="297.55" stroke="#222" stroke-width="0.9"/><text x="586.62" y="300.35" font-size="7.55">−0.75</text></svg></div></body></html>
